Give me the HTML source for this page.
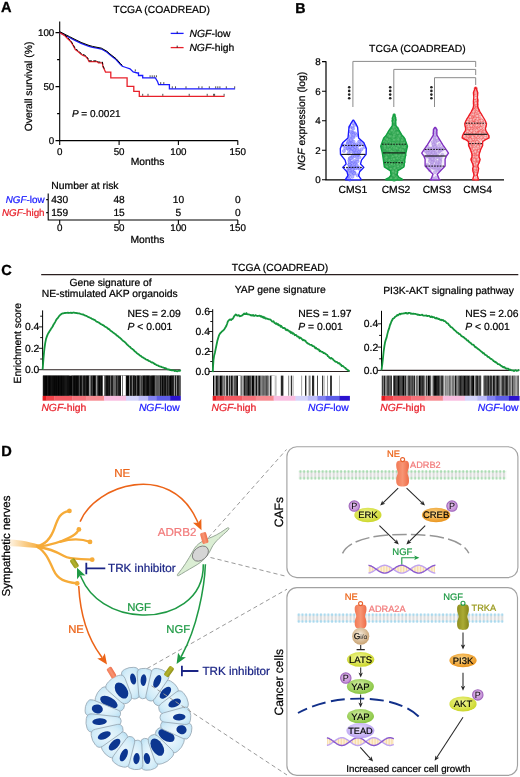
<!DOCTYPE html>
<html><head><meta charset="utf-8"><title>Figure</title>
<style>html,body{margin:0;padding:0;background:#fff;overflow:hidden;}svg{display:block;}text{font-family:"Liberation Sans",Arial,Helvetica,sans-serif;text-rendering:geometricPrecision;}</style>
</head><body>
<svg width="520" height="777" viewBox="0 0 520 777">
<defs>
<linearGradient id="nerveg" x1="10" y1="0" x2="40" y2="0" gradientUnits="userSpaceOnUse"><stop offset="0" stop-color="#f6ab38" stop-opacity="0.15"/><stop offset="0.5" stop-color="#f6ab38" stop-opacity="0.6"/><stop offset="1" stop-color="#f6ab38"/></linearGradient>
<radialGradient id="cellg" cx="0.5" cy="0.5" r="0.62"><stop offset="0" stop-color="#eef8fd"/><stop offset="0.7" stop-color="#d2ecf8"/><stop offset="1" stop-color="#b8dff3"/></radialGradient>
<radialGradient id="yg" cx="0.45" cy="0.4" r="0.6"><stop offset="0" stop-color="#f4fa9a"/><stop offset="1" stop-color="#cbd62a"/></radialGradient>
<radialGradient id="og" cx="0.45" cy="0.4" r="0.6"><stop offset="0" stop-color="#fcd98e"/><stop offset="1" stop-color="#ea951e"/></radialGradient>
<radialGradient id="gg" cx="0.45" cy="0.4" r="0.6"><stop offset="0" stop-color="#d8f0a8"/><stop offset="1" stop-color="#86c440"/></radialGradient>
<radialGradient id="lg" cx="0.45" cy="0.4" r="0.6"><stop offset="0" stop-color="#ece2ff"/><stop offset="1" stop-color="#b9a2f0"/></radialGradient>
<radialGradient id="tang" cx="0.45" cy="0.4" r="0.6"><stop offset="0" stop-color="#f6ecdc"/><stop offset="1" stop-color="#c8a272"/></radialGradient>
<radialGradient id="pg" cx="0.45" cy="0.4" r="0.6"><stop offset="0" stop-color="#e4c4ee"/><stop offset="1" stop-color="#c08ad4"/></radialGradient>
<linearGradient id="salmg" x1="0" y1="0" x2="1" y2="0"><stop offset="0" stop-color="#f27a56"/><stop offset="0.5" stop-color="#f79574"/><stop offset="1" stop-color="#ee6c48"/></linearGradient>
<linearGradient id="oliveg2" x1="0" y1="0" x2="1" y2="0"><stop offset="0" stop-color="#9c9c1c"/><stop offset="0.5" stop-color="#b4b430"/><stop offset="1" stop-color="#8e8e16"/></linearGradient>
<linearGradient id="oliveg" x1="0" y1="0" x2="1" y2="0"><stop offset="0" stop-color="#8e8e1e"/><stop offset="0.5" stop-color="#abab34"/><stop offset="1" stop-color="#858518"/></linearGradient>
<pattern id="memg" x="298.6" y="470.2" width="3.7" height="9.4" patternUnits="userSpaceOnUse"><rect x="0.9" y="1.4" width="1.9" height="6.6" fill="#f2f2f2"/><path d="M1.15,1.8V7.6M2.55,1.8V7.6" stroke="#c2c2c2" stroke-width="0.55"/><circle cx="1.85" cy="1.3" r="1.25" fill="#a9dcb1"/><circle cx="1.85" cy="8.1" r="1.25" fill="#a9dcb1"/></pattern>
<pattern id="memb" x="296.9" y="613.4" width="3.7" height="9.4" patternUnits="userSpaceOnUse"><rect x="0.9" y="1.4" width="1.9" height="6.6" fill="#f2f2f2"/><path d="M1.15,1.8V7.6M2.55,1.8V7.6" stroke="#c2c2c2" stroke-width="0.55"/><circle cx="1.85" cy="1.3" r="1.25" fill="#a6d8ee"/><circle cx="1.85" cy="8.1" r="1.25" fill="#a6d8ee"/></pattern>
</defs>
<rect width="520" height="777" fill="#fff"/>
<text x="0.9" y="11.9" font-size="14.6" font-weight="bold" stroke="#000" stroke-width="0.3">A</text>
<text x="161.6" y="12.6" font-size="10.35" text-anchor="middle" stroke="#000" stroke-width="0.22">TCGA (COADREAD)</text>
<path d="M59.7,21.5V140.6H237.8" fill="none" stroke="#000" stroke-width="1.1"/>
<path d="M55.5,32.6H59.7M57.1,59.6H59.7M55.5,86.6H59.7M57.1,113.6H59.7M55.5,140.6H59.7M59.7,140.6V145.1M119.1,140.6V145.1M178.4,140.6V145.1M237.8,140.6V145.1" stroke="#000" stroke-width="1.1"/>
<text x="54.3" y="36.1" font-size="9.8" text-anchor="end" stroke="#000" stroke-width="0.22">100</text>
<text x="54.3" y="90.1" font-size="9.8" text-anchor="end" stroke="#000" stroke-width="0.22">50</text>
<text x="54.3" y="144.1" font-size="9.8" text-anchor="end" stroke="#000" stroke-width="0.22">0</text>
<text x="59.7" y="154.7" font-size="9.8" text-anchor="middle" stroke="#000" stroke-width="0.22">0</text>
<text x="119.1" y="154.7" font-size="9.8" text-anchor="middle" stroke="#000" stroke-width="0.22">50</text>
<text x="178.4" y="154.7" font-size="9.8" text-anchor="middle" stroke="#000" stroke-width="0.22">100</text>
<text x="237.8" y="154.7" font-size="9.8" text-anchor="middle" stroke="#000" stroke-width="0.22">150</text>
<text x="147.6" y="165.2" font-size="10.35" text-anchor="middle" stroke="#000" stroke-width="0.22">Months</text>
<text x="0" y="0" font-size="10.35" text-anchor="middle" stroke="#000" stroke-width="0.22" transform="translate(32.2,86.5) rotate(-90)">Overall survival (%)</text>
<text x="71.9" y="117.2" font-size="10.0" stroke="#000" stroke-width="0.22"><tspan font-style="italic">P</tspan> = 0.0021</text>
<path d="M170.7,33.4H183.6" stroke="#1a1aff" stroke-width="1.3"/><path d="M177.2,31.4V33.4" stroke="#000" stroke-width="0.8"/>
<path d="M170.7,47.6H183.6" stroke="#e8202a" stroke-width="1.3"/><path d="M177.2,45.6V47.6" stroke="#000" stroke-width="0.8"/>
<text x="189.6" y="36.9" font-size="10.35" stroke="#000" stroke-width="0.22"><tspan font-style="italic">NGF</tspan>-low</text>
<text x="189.4" y="51.3" font-size="10.35" stroke="#000" stroke-width="0.22"><tspan font-style="italic">NGF</tspan>-high</text>
<polyline points="59.8,32.6 63.0,34.2 66.0,35.8 69.5,37.5 73.0,39.3 77.0,41.3 81.1,43.3 85.0,44.8 89.0,46.3 92.6,47.3 97.0,48.2 101.3,49.0 104.0,50.5 107.0,52.2 109.9,54.8 113.0,57.2 116.0,59.5 118.0,61.7 120.5,64.5 122.3,66.3 126.0,67.5 130.0,68.8 133.2,71.9 137.4,73.0 138.5,73.0 138.5,75.5 142.7,75.5 142.7,77.8 155.4,77.8 157.5,81.4 158.6,84.6 169.4,84.6 169.4,88.8 235.1,88.8" fill="none" stroke="#1a1aff" stroke-width="1.3" stroke-linejoin="miter"/>
<polyline points="59.8,32.6 64.9,35.8 67.5,38.5 70.7,41.5 73.0,45.2 75.3,49.5 78.0,51.5 81.1,54.2 83.0,55.3 85.7,56.5 87.5,58.5 89.1,61.7 97.2,61.7 98.4,62.9 102.4,62.9 103.0,66.9 104.5,69.8 105.5,72.1 110.8,72.1 110.8,77.9 127.1,77.9 127.1,86.3 133.8,86.3 133.8,91.4 139.3,91.4 139.3,96.3 224.6,96.3" fill="none" stroke="#e8202a" stroke-width="1.3"/>
<polyline points="59.8,31.7 63.0,33.3 66.0,34.9 69.5,36.6 73.0,38.4 77.0,40.4 81.1,42.4 85.0,43.9 89.0,45.4 92.6,46.4 97.0,47.3 101.3,48.1 104.0,49.6 107.0,51.3 109.9,53.9 113.0,56.3 116.0,58.6 118.0,60.8 120.5,63.6 122.3,65.4" fill="none" stroke="#000" stroke-width="1.0"/>
<polyline points="64.9,34.9 67.5,37.6 70.7,40.6 73.0,44.3 75.3,48.6 78.0,50.6 81.1,53.3 83.0,54.4 85.7,55.6 87.5,57.6 89.1,60.8 97.2,60.8 98.4,62.0 102.4,62.0 103.0,66.0 104.5,68.9" fill="none" stroke="#000" stroke-width="0.9" stroke-dasharray="3 1.5"/>
<path d="M135.3,71.4v-2M150.1,77.3v-2M152.2,77.3v-2M154.3,77.3v-2M156.4,77.3v-2M160.7,84.1v-2M163.8,84.1v-2M172.3,88.3v-2M175.5,88.3v-2M186,88.3v-2M198.8,88.3v-2M202,88.3v-2M209.3,88.3v-2M215.7,88.3v-2M217.8,88.3v-2M219.9,88.3v-2M226.3,88.3v-2M234.7,88.3v-2M142.7,95.8v-2M148,95.8v-2M162.8,95.8v-2M189.2,95.8v-2M207.2,95.8v-2M213.6,95.8v-2M214.6,95.8v-2M224.1,95.8v-2" stroke="#000" stroke-width="0.7"/>
<text x="51.3" y="188.8" font-size="10.35" stroke="#000" stroke-width="0.22">Number at risk</text>
<path d="M48.2,193.4V220H238M46.2,199.6H48.2M46.2,212.6H48.2" fill="none" stroke="#000" stroke-width="1.1"/>
<path d="M59.7,220V224M119.1,220V224M178.4,220V224M237.8,220V224" stroke="#000" stroke-width="1.1"/>
<text x="44.6" y="203.0" font-size="9.85" text-anchor="end" fill="#1a1aff" stroke="#1a1aff" stroke-width="0.22"><tspan font-style="italic">NGF</tspan>-low</text>
<text x="44.6" y="215.8" font-size="9.85" text-anchor="end" fill="#e8202a" stroke="#e8202a" stroke-width="0.22"><tspan font-style="italic">NGF</tspan>-high</text>
<text x="59.7" y="203.0" font-size="10.2" text-anchor="middle" stroke="#000" stroke-width="0.22">430</text>
<text x="59.7" y="215.8" font-size="10.2" text-anchor="middle" stroke="#000" stroke-width="0.22">159</text>
<text x="59.7" y="231.4" font-size="9.8" text-anchor="middle" stroke="#000" stroke-width="0.22">0</text>
<text x="119.1" y="203.0" font-size="10.2" text-anchor="middle" stroke="#000" stroke-width="0.22">48</text>
<text x="119.1" y="215.8" font-size="10.2" text-anchor="middle" stroke="#000" stroke-width="0.22">15</text>
<text x="119.1" y="231.4" font-size="9.8" text-anchor="middle" stroke="#000" stroke-width="0.22">50</text>
<text x="178.4" y="203.0" font-size="10.2" text-anchor="middle" stroke="#000" stroke-width="0.22">10</text>
<text x="178.4" y="215.8" font-size="10.2" text-anchor="middle" stroke="#000" stroke-width="0.22">5</text>
<text x="178.4" y="231.4" font-size="9.8" text-anchor="middle" stroke="#000" stroke-width="0.22">100</text>
<text x="237.8" y="203.0" font-size="10.2" text-anchor="middle" stroke="#000" stroke-width="0.22">0</text>
<text x="237.8" y="215.8" font-size="10.2" text-anchor="middle" stroke="#000" stroke-width="0.22">0</text>
<text x="237.8" y="231.4" font-size="9.8" text-anchor="middle" stroke="#000" stroke-width="0.22">150</text>
<text x="147.4" y="243.3" font-size="10.35" text-anchor="middle" stroke="#000" stroke-width="0.22">Months</text>
<text x="295.2" y="12.8" font-size="14.2" font-weight="bold" stroke="#000" stroke-width="0.3">B</text>
<text x="417.4" y="51.6" font-size="10.35" text-anchor="middle" stroke="#000" stroke-width="0.22">TCGA (COADREAD)</text>
<path d="M326.0,61.2V179.8H504" fill="none" stroke="#000" stroke-width="1.2"/>
<path d="M322.0,179.8H326.0M322.0,150.2H326.0M322.0,120.7H326.0M322.0,91.2H326.0M322.0,61.6H326.0" stroke="#000" stroke-width="1.1"/>
<text x="320.6" y="183.3" font-size="9.8" text-anchor="end" stroke="#000" stroke-width="0.22">0</text>
<text x="320.6" y="153.8" font-size="9.8" text-anchor="end" stroke="#000" stroke-width="0.22">2</text>
<text x="320.6" y="124.2" font-size="9.8" text-anchor="end" stroke="#000" stroke-width="0.22">4</text>
<text x="320.6" y="94.7" font-size="9.8" text-anchor="end" stroke="#000" stroke-width="0.22">6</text>
<text x="320.6" y="65.1" font-size="9.8" text-anchor="end" stroke="#000" stroke-width="0.22">8</text>
<text x="0" y="0" font-size="10.35" text-anchor="middle" stroke="#000" stroke-width="0.22" transform="translate(304.6,121) rotate(-90)"><tspan font-style="italic">NGF</tspan> expression (log)</text>
<text x="352.8" y="192.6" font-size="10.35" text-anchor="middle" stroke="#000" stroke-width="0.22">CMS1</text>
<text x="396.0" y="192.6" font-size="10.35" text-anchor="middle" stroke="#000" stroke-width="0.22">CMS2</text>
<text x="437.0" y="192.6" font-size="10.35" text-anchor="middle" stroke="#000" stroke-width="0.22">CMS3</text>
<text x="477.6" y="192.6" font-size="10.35" text-anchor="middle" stroke="#000" stroke-width="0.22">CMS4</text>
<path d="M352.9,107V61.4H475.7V67M393.8,107V69.4H475.7V75M434.5,107V77.7H475.7V85" fill="none" stroke="#8a8a8a" stroke-width="1"/>
<circle cx="349.2" cy="87.2" r="1.3" fill="#222"/>
<circle cx="349.2" cy="90.9" r="1.3" fill="#222"/>
<circle cx="349.2" cy="94.6" r="1.3" fill="#222"/>
<circle cx="349.2" cy="98.3" r="1.3" fill="#222"/>
<circle cx="390.2" cy="87.2" r="1.3" fill="#222"/>
<circle cx="390.2" cy="90.9" r="1.3" fill="#222"/>
<circle cx="390.2" cy="94.6" r="1.3" fill="#222"/>
<circle cx="390.2" cy="98.3" r="1.3" fill="#222"/>
<circle cx="431.4" cy="87.2" r="1.3" fill="#222"/>
<circle cx="431.4" cy="90.9" r="1.3" fill="#222"/>
<circle cx="431.4" cy="94.6" r="1.3" fill="#222"/>
<circle cx="431.4" cy="98.3" r="1.3" fill="#222"/>
<path d="M345.60,179.80 L345.60,179.06 L348.00,175.66 L347.00,171.82 L342.70,167.39 L346.10,163.99 L345.10,160.15 L340.50,154.39 L340.30,148.62 L342.70,142.86 L348.00,137.99 L349.00,127.35 L350.80,123.66 L353.00,120.11 L353.60,120.11 L355.80,123.66 L357.60,127.35 L358.60,137.99 L363.90,142.86 L366.30,148.62 L366.10,154.39 L361.50,160.15 L360.50,163.99 L363.90,167.39 L359.60,171.82 L358.60,175.66 L361.00,179.06 L361.00,179.80Z" fill="#ffffff" stroke="none"/>
<g fill="#a4a4ff" stroke="#5a5aff" stroke-width="0.45" fill-opacity="0.8" stroke-opacity="0.8"><circle cx="359.1" cy="152.8" r="1.55"/><circle cx="350.3" cy="149.5" r="1.55"/><circle cx="348.2" cy="168.8" r="1.55"/><circle cx="350.0" cy="174.2" r="1.55"/><circle cx="352.2" cy="140.8" r="1.55"/><circle cx="352.1" cy="170.4" r="1.55"/><circle cx="353.0" cy="168.4" r="1.55"/><circle cx="347.7" cy="178.0" r="1.55"/><circle cx="357.4" cy="148.8" r="1.55"/><circle cx="348.8" cy="150.0" r="1.55"/><circle cx="354.1" cy="161.0" r="1.55"/><circle cx="353.7" cy="162.5" r="1.55"/><circle cx="349.8" cy="179.8" r="1.55"/><circle cx="355.0" cy="133.3" r="1.55"/><circle cx="354.6" cy="172.8" r="1.55"/><circle cx="353.8" cy="173.8" r="1.55"/><circle cx="350.0" cy="146.4" r="1.55"/><circle cx="353.8" cy="172.8" r="1.55"/><circle cx="356.9" cy="167.2" r="1.55"/><circle cx="353.9" cy="167.1" r="1.55"/><circle cx="350.2" cy="162.1" r="1.55"/><circle cx="350.4" cy="165.3" r="1.55"/><circle cx="357.5" cy="145.5" r="1.55"/><circle cx="359.7" cy="168.9" r="1.55"/><circle cx="349.6" cy="164.9" r="1.55"/><circle cx="356.4" cy="144.2" r="1.55"/><circle cx="348.9" cy="175.7" r="1.55"/><circle cx="349.9" cy="143.1" r="1.55"/><circle cx="354.4" cy="125.0" r="1.55"/><circle cx="353.8" cy="153.2" r="1.55"/><circle cx="351.4" cy="169.3" r="1.55"/><circle cx="352.6" cy="171.4" r="1.55"/><circle cx="343.9" cy="151.0" r="1.55"/><circle cx="358.1" cy="154.9" r="1.55"/><circle cx="348.8" cy="142.5" r="1.55"/><circle cx="359.8" cy="145.0" r="1.55"/><circle cx="357.3" cy="153.5" r="1.55"/><circle cx="351.1" cy="151.1" r="1.55"/><circle cx="349.4" cy="164.5" r="1.55"/><circle cx="358.9" cy="167.7" r="1.55"/><circle cx="348.6" cy="153.4" r="1.55"/><circle cx="356.8" cy="168.0" r="1.55"/><circle cx="342.5" cy="145.0" r="1.55"/><circle cx="350.8" cy="163.3" r="1.55"/><circle cx="354.4" cy="167.0" r="1.55"/><circle cx="349.8" cy="142.4" r="1.55"/><circle cx="357.5" cy="175.3" r="1.55"/><circle cx="352.6" cy="127.7" r="1.55"/><circle cx="349.1" cy="178.7" r="1.55"/><circle cx="355.3" cy="152.7" r="1.55"/><circle cx="351.3" cy="171.4" r="1.55"/><circle cx="348.8" cy="142.2" r="1.55"/><circle cx="350.3" cy="138.9" r="1.55"/><circle cx="359.8" cy="151.4" r="1.55"/><circle cx="353.5" cy="137.2" r="1.55"/><circle cx="352.0" cy="163.5" r="1.55"/><circle cx="347.8" cy="143.1" r="1.55"/><circle cx="355.1" cy="156.3" r="1.55"/><circle cx="352.6" cy="172.0" r="1.55"/><circle cx="359.4" cy="157.3" r="1.55"/><circle cx="348.6" cy="140.9" r="1.55"/><circle cx="348.0" cy="147.7" r="1.55"/><circle cx="364.3" cy="147.0" r="1.55"/><circle cx="354.1" cy="150.7" r="1.55"/><circle cx="352.6" cy="132.1" r="1.55"/><circle cx="348.5" cy="171.4" r="1.55"/><circle cx="353.1" cy="123.1" r="1.55"/><circle cx="351.5" cy="166.6" r="1.55"/><circle cx="359.8" cy="141.7" r="1.55"/><circle cx="357.6" cy="161.2" r="1.55"/><circle cx="343.9" cy="145.6" r="1.55"/><circle cx="352.2" cy="147.8" r="1.55"/><circle cx="352.5" cy="155.9" r="1.55"/><circle cx="352.6" cy="146.2" r="1.55"/><circle cx="351.3" cy="147.6" r="1.55"/><circle cx="355.7" cy="163.7" r="1.55"/><circle cx="357.7" cy="151.4" r="1.55"/><circle cx="355.3" cy="168.4" r="1.55"/><circle cx="352.8" cy="133.3" r="1.55"/><circle cx="351.8" cy="168.2" r="1.55"/><circle cx="349.8" cy="158.6" r="1.55"/><circle cx="349.5" cy="164.8" r="1.55"/><circle cx="352.3" cy="157.4" r="1.55"/><circle cx="355.6" cy="148.2" r="1.55"/><circle cx="359.0" cy="141.7" r="1.55"/><circle cx="353.1" cy="128.7" r="1.55"/><circle cx="350.0" cy="126.8" r="1.55"/><circle cx="355.0" cy="164.3" r="1.55"/><circle cx="351.3" cy="132.6" r="1.55"/><circle cx="356.8" cy="155.8" r="1.55"/><circle cx="353.7" cy="149.6" r="1.55"/><circle cx="354.1" cy="149.8" r="1.55"/><circle cx="354.2" cy="173.5" r="1.55"/><circle cx="350.5" cy="146.9" r="1.55"/><circle cx="352.3" cy="168.8" r="1.55"/><circle cx="358.7" cy="152.2" r="1.55"/><circle cx="349.4" cy="160.3" r="1.55"/><circle cx="352.8" cy="143.9" r="1.55"/><circle cx="353.0" cy="169.0" r="1.55"/><circle cx="348.8" cy="168.2" r="1.55"/><circle cx="361.5" cy="149.2" r="1.55"/><circle cx="348.3" cy="142.2" r="1.55"/><circle cx="362.3" cy="144.0" r="1.55"/><circle cx="352.8" cy="136.7" r="1.55"/><circle cx="357.0" cy="159.4" r="1.55"/><circle cx="353.6" cy="141.7" r="1.55"/><circle cx="350.9" cy="140.0" r="1.55"/><circle cx="347.0" cy="148.0" r="1.55"/><circle cx="349.5" cy="164.5" r="1.55"/><circle cx="352.4" cy="176.8" r="1.55"/><circle cx="355.1" cy="147.0" r="1.55"/><circle cx="350.4" cy="131.5" r="1.55"/><circle cx="349.9" cy="170.3" r="1.55"/><circle cx="352.3" cy="169.7" r="1.55"/><circle cx="352.0" cy="148.4" r="1.55"/><circle cx="350.1" cy="158.0" r="1.55"/><circle cx="349.6" cy="162.1" r="1.55"/><circle cx="356.8" cy="165.2" r="1.55"/><circle cx="356.5" cy="135.1" r="1.55"/><circle cx="357.5" cy="154.2" r="1.55"/><circle cx="352.6" cy="148.6" r="1.55"/><circle cx="349.4" cy="143.8" r="1.55"/><circle cx="349.7" cy="167.6" r="1.55"/><circle cx="345.3" cy="148.3" r="1.55"/><circle cx="356.3" cy="152.6" r="1.55"/><circle cx="354.4" cy="145.0" r="1.55"/><circle cx="350.5" cy="136.0" r="1.55"/><circle cx="351.1" cy="158.4" r="1.55"/><circle cx="347.3" cy="144.5" r="1.55"/><circle cx="353.3" cy="134.8" r="1.55"/></g>
<path d="M345.60,179.80 L345.60,179.06 L348.00,175.66 L347.00,171.82 L342.70,167.39 L346.10,163.99 L345.10,160.15 L340.50,154.39 L340.30,148.62 L342.70,142.86 L348.00,137.99 L349.00,127.35 L350.80,123.66 L353.00,120.11 L353.60,120.11 L355.80,123.66 L357.60,127.35 L358.60,137.99 L363.90,142.86 L366.30,148.62 L366.10,154.39 L361.50,160.15 L360.50,163.99 L363.90,167.39 L359.60,171.82 L358.60,175.66 L361.00,179.06 L361.00,179.80Z" fill="none" stroke="#1a1aff" stroke-width="1.35" stroke-linejoin="round"/>
<path d="M341.1,154.4H365.5" stroke="#111" stroke-width="1.1"/>
<path d="M343.3,167.4H363.3M342.3,145.4H364.3" stroke="#111" stroke-width="1" stroke-dasharray="1.7 1.1"/>
<path d="M385.90,179.80 L385.90,179.21 L388.90,177.73 L391.00,175.07 L390.50,170.94 L384.30,166.95 L383.30,159.56 L382.20,152.47 L380.70,146.26 L383.30,139.02 L386.40,134.88 L389.50,129.71 L392.30,125.58 L392.60,117.75 L393.80,114.35 L394.40,114.35 L395.60,117.75 L395.90,125.58 L398.70,129.71 L401.80,134.88 L404.90,139.02 L407.50,146.26 L406.00,152.47 L404.90,159.56 L403.90,166.95 L397.70,170.94 L397.20,175.07 L399.30,177.73 L402.30,179.21 L402.30,179.80Z" fill="#34a656" stroke="none"/>
<g fill="#5cbf74" stroke="#1f9a44" stroke-width="0.45" fill-opacity="0.8" stroke-opacity="0.8"><circle cx="391.3" cy="148.7" r="1.55"/><circle cx="391.0" cy="179.1" r="1.55"/><circle cx="400.6" cy="143.3" r="1.55"/><circle cx="401.7" cy="157.7" r="1.55"/><circle cx="402.9" cy="146.5" r="1.55"/><circle cx="393.2" cy="139.1" r="1.55"/><circle cx="391.2" cy="153.6" r="1.55"/><circle cx="392.4" cy="140.8" r="1.55"/><circle cx="395.6" cy="156.5" r="1.55"/><circle cx="392.0" cy="172.3" r="1.55"/><circle cx="402.9" cy="151.6" r="1.55"/><circle cx="403.5" cy="157.3" r="1.55"/><circle cx="396.9" cy="166.1" r="1.55"/><circle cx="393.9" cy="156.0" r="1.55"/><circle cx="397.8" cy="146.8" r="1.55"/><circle cx="400.3" cy="158.7" r="1.55"/><circle cx="392.1" cy="148.6" r="1.55"/><circle cx="393.2" cy="133.7" r="1.55"/><circle cx="401.3" cy="152.3" r="1.55"/><circle cx="390.7" cy="144.8" r="1.55"/><circle cx="396.9" cy="156.7" r="1.55"/><circle cx="403.0" cy="144.3" r="1.55"/><circle cx="399.1" cy="133.9" r="1.55"/><circle cx="388.5" cy="163.7" r="1.55"/><circle cx="394.9" cy="159.3" r="1.55"/><circle cx="394.5" cy="136.1" r="1.55"/><circle cx="397.0" cy="156.2" r="1.55"/><circle cx="404.8" cy="147.0" r="1.55"/><circle cx="394.7" cy="164.9" r="1.55"/><circle cx="387.7" cy="135.2" r="1.55"/><circle cx="389.6" cy="131.9" r="1.55"/><circle cx="394.1" cy="159.7" r="1.55"/><circle cx="394.1" cy="165.0" r="1.55"/><circle cx="396.8" cy="139.4" r="1.55"/><circle cx="387.0" cy="153.2" r="1.55"/><circle cx="395.6" cy="127.0" r="1.55"/><circle cx="392.1" cy="156.3" r="1.55"/><circle cx="399.2" cy="179.0" r="1.55"/><circle cx="400.2" cy="167.8" r="1.55"/><circle cx="383.4" cy="144.7" r="1.55"/><circle cx="398.0" cy="145.3" r="1.55"/><circle cx="384.9" cy="138.2" r="1.55"/><circle cx="385.6" cy="138.3" r="1.55"/><circle cx="397.3" cy="133.0" r="1.55"/><circle cx="394.9" cy="175.7" r="1.55"/><circle cx="395.2" cy="179.2" r="1.55"/><circle cx="394.5" cy="117.6" r="1.55"/><circle cx="394.3" cy="144.3" r="1.55"/><circle cx="398.0" cy="140.5" r="1.55"/><circle cx="395.7" cy="157.6" r="1.55"/><circle cx="385.0" cy="148.1" r="1.55"/><circle cx="386.2" cy="156.1" r="1.55"/><circle cx="402.2" cy="154.6" r="1.55"/><circle cx="401.4" cy="163.3" r="1.55"/><circle cx="390.3" cy="142.0" r="1.55"/><circle cx="401.8" cy="159.5" r="1.55"/><circle cx="394.0" cy="146.9" r="1.55"/><circle cx="395.6" cy="168.5" r="1.55"/><circle cx="401.8" cy="155.8" r="1.55"/><circle cx="385.6" cy="158.0" r="1.55"/><circle cx="399.7" cy="137.4" r="1.55"/><circle cx="394.1" cy="135.8" r="1.55"/><circle cx="386.6" cy="164.5" r="1.55"/><circle cx="384.0" cy="141.2" r="1.55"/><circle cx="390.4" cy="149.3" r="1.55"/><circle cx="392.6" cy="136.4" r="1.55"/><circle cx="386.2" cy="159.7" r="1.55"/><circle cx="391.7" cy="159.2" r="1.55"/><circle cx="394.7" cy="176.5" r="1.55"/><circle cx="393.3" cy="143.7" r="1.55"/><circle cx="402.9" cy="139.4" r="1.55"/><circle cx="405.2" cy="145.6" r="1.55"/><circle cx="399.6" cy="143.8" r="1.55"/><circle cx="398.2" cy="165.4" r="1.55"/><circle cx="393.4" cy="137.2" r="1.55"/><circle cx="395.2" cy="171.7" r="1.55"/><circle cx="392.0" cy="165.2" r="1.55"/><circle cx="391.4" cy="130.7" r="1.55"/><circle cx="390.3" cy="168.7" r="1.55"/><circle cx="387.9" cy="152.6" r="1.55"/><circle cx="393.4" cy="118.5" r="1.55"/><circle cx="396.9" cy="166.4" r="1.55"/><circle cx="393.5" cy="168.3" r="1.55"/><circle cx="390.4" cy="136.6" r="1.55"/><circle cx="397.3" cy="166.5" r="1.55"/><circle cx="396.0" cy="148.4" r="1.55"/><circle cx="395.8" cy="135.7" r="1.55"/><circle cx="391.0" cy="168.8" r="1.55"/><circle cx="395.6" cy="166.6" r="1.55"/><circle cx="388.4" cy="135.0" r="1.55"/><circle cx="397.1" cy="137.2" r="1.55"/><circle cx="388.0" cy="144.4" r="1.55"/><circle cx="389.4" cy="140.0" r="1.55"/><circle cx="392.4" cy="161.8" r="1.55"/><circle cx="397.5" cy="162.7" r="1.55"/><circle cx="398.7" cy="136.0" r="1.55"/><circle cx="399.4" cy="167.8" r="1.55"/><circle cx="394.0" cy="120.4" r="1.55"/><circle cx="389.4" cy="160.2" r="1.55"/><circle cx="392.8" cy="174.1" r="1.55"/><circle cx="393.2" cy="169.9" r="1.55"/><circle cx="395.2" cy="148.6" r="1.55"/><circle cx="394.5" cy="134.5" r="1.55"/><circle cx="393.5" cy="150.6" r="1.55"/><circle cx="397.1" cy="132.2" r="1.55"/><circle cx="388.3" cy="154.1" r="1.55"/><circle cx="395.4" cy="133.1" r="1.55"/><circle cx="394.2" cy="115.1" r="1.55"/><circle cx="390.7" cy="149.5" r="1.55"/><circle cx="401.2" cy="162.4" r="1.55"/><circle cx="393.3" cy="132.5" r="1.55"/><circle cx="393.4" cy="173.9" r="1.55"/><circle cx="391.9" cy="130.7" r="1.55"/><circle cx="394.6" cy="168.1" r="1.55"/><circle cx="400.2" cy="151.8" r="1.55"/><circle cx="396.5" cy="172.4" r="1.55"/><circle cx="392.4" cy="148.8" r="1.55"/><circle cx="395.8" cy="152.6" r="1.55"/><circle cx="392.4" cy="137.4" r="1.55"/><circle cx="384.8" cy="144.0" r="1.55"/><circle cx="385.7" cy="158.2" r="1.55"/><circle cx="393.4" cy="175.1" r="1.55"/><circle cx="398.2" cy="167.8" r="1.55"/><circle cx="403.1" cy="165.2" r="1.55"/><circle cx="400.4" cy="152.9" r="1.55"/><circle cx="393.3" cy="128.2" r="1.55"/><circle cx="393.7" cy="149.9" r="1.55"/><circle cx="393.3" cy="138.0" r="1.55"/><circle cx="401.3" cy="144.4" r="1.55"/><circle cx="389.5" cy="150.5" r="1.55"/><circle cx="397.4" cy="138.1" r="1.55"/><circle cx="396.0" cy="143.3" r="1.55"/><circle cx="401.6" cy="147.8" r="1.55"/><circle cx="384.4" cy="144.4" r="1.55"/><circle cx="390.8" cy="136.0" r="1.55"/><circle cx="390.1" cy="165.3" r="1.55"/><circle cx="394.4" cy="179.7" r="1.55"/><circle cx="395.9" cy="147.0" r="1.55"/><circle cx="389.9" cy="146.1" r="1.55"/><circle cx="395.6" cy="140.4" r="1.55"/><circle cx="394.2" cy="134.7" r="1.55"/><circle cx="388.4" cy="141.1" r="1.55"/><circle cx="402.0" cy="155.3" r="1.55"/><circle cx="396.8" cy="141.6" r="1.55"/><circle cx="390.9" cy="162.2" r="1.55"/><circle cx="386.1" cy="163.0" r="1.55"/><circle cx="393.6" cy="131.2" r="1.55"/><circle cx="393.1" cy="142.0" r="1.55"/><circle cx="402.8" cy="146.8" r="1.55"/><circle cx="397.9" cy="132.8" r="1.55"/><circle cx="386.2" cy="142.1" r="1.55"/><circle cx="395.9" cy="139.6" r="1.55"/><circle cx="387.5" cy="149.4" r="1.55"/><circle cx="386.4" cy="157.3" r="1.55"/><circle cx="403.7" cy="139.2" r="1.55"/><circle cx="397.7" cy="132.9" r="1.55"/><circle cx="396.0" cy="153.2" r="1.55"/><circle cx="395.0" cy="150.7" r="1.55"/><circle cx="398.4" cy="140.7" r="1.55"/><circle cx="400.8" cy="143.1" r="1.55"/><circle cx="385.8" cy="144.3" r="1.55"/><circle cx="395.2" cy="152.1" r="1.55"/><circle cx="400.0" cy="164.9" r="1.55"/><circle cx="386.7" cy="153.3" r="1.55"/><circle cx="402.2" cy="166.3" r="1.55"/><circle cx="398.6" cy="136.3" r="1.55"/><circle cx="394.4" cy="129.6" r="1.55"/><circle cx="394.0" cy="151.9" r="1.55"/><circle cx="384.8" cy="146.4" r="1.55"/><circle cx="393.8" cy="136.5" r="1.55"/><circle cx="392.4" cy="157.2" r="1.55"/><circle cx="394.6" cy="149.7" r="1.55"/><circle cx="390.9" cy="143.2" r="1.55"/><circle cx="392.8" cy="145.3" r="1.55"/><circle cx="386.9" cy="140.0" r="1.55"/><circle cx="401.9" cy="141.8" r="1.55"/><circle cx="393.1" cy="120.7" r="1.55"/><circle cx="393.7" cy="140.6" r="1.55"/><circle cx="388.1" cy="147.0" r="1.55"/><circle cx="391.9" cy="147.2" r="1.55"/><circle cx="393.1" cy="151.7" r="1.55"/><circle cx="393.1" cy="142.9" r="1.55"/><circle cx="393.1" cy="156.3" r="1.55"/><circle cx="392.9" cy="143.1" r="1.55"/><circle cx="397.8" cy="157.1" r="1.55"/><circle cx="396.8" cy="143.4" r="1.55"/><circle cx="393.3" cy="127.8" r="1.55"/><circle cx="402.5" cy="150.2" r="1.55"/><circle cx="394.0" cy="148.6" r="1.55"/><circle cx="391.1" cy="178.2" r="1.55"/><circle cx="402.0" cy="140.1" r="1.55"/><circle cx="397.8" cy="138.5" r="1.55"/><circle cx="395.8" cy="155.9" r="1.55"/><circle cx="393.6" cy="126.7" r="1.55"/><circle cx="396.3" cy="170.2" r="1.55"/><circle cx="391.0" cy="163.9" r="1.55"/><circle cx="388.5" cy="146.2" r="1.55"/><circle cx="397.3" cy="128.5" r="1.55"/><circle cx="386.5" cy="165.8" r="1.55"/><circle cx="402.5" cy="157.5" r="1.55"/><circle cx="404.5" cy="147.3" r="1.55"/><circle cx="389.9" cy="150.6" r="1.55"/><circle cx="397.6" cy="148.4" r="1.55"/><circle cx="393.9" cy="159.0" r="1.55"/><circle cx="395.6" cy="172.6" r="1.55"/><circle cx="393.2" cy="146.1" r="1.55"/><circle cx="387.0" cy="166.7" r="1.55"/><circle cx="399.0" cy="152.5" r="1.55"/><circle cx="404.1" cy="154.4" r="1.55"/><circle cx="392.7" cy="171.3" r="1.55"/><circle cx="404.7" cy="155.3" r="1.55"/><circle cx="393.5" cy="179.7" r="1.55"/><circle cx="398.7" cy="146.2" r="1.55"/><circle cx="399.0" cy="146.2" r="1.55"/><circle cx="394.4" cy="147.5" r="1.55"/><circle cx="402.8" cy="137.5" r="1.55"/><circle cx="390.3" cy="163.1" r="1.55"/><circle cx="395.0" cy="154.6" r="1.55"/><circle cx="393.2" cy="171.5" r="1.55"/><circle cx="400.3" cy="149.6" r="1.55"/><circle cx="396.0" cy="144.8" r="1.55"/><circle cx="385.8" cy="163.0" r="1.55"/><circle cx="398.6" cy="137.5" r="1.55"/><circle cx="398.3" cy="158.6" r="1.55"/><circle cx="400.1" cy="155.2" r="1.55"/><circle cx="389.7" cy="149.3" r="1.55"/><circle cx="394.0" cy="139.7" r="1.55"/><circle cx="388.1" cy="145.5" r="1.55"/><circle cx="397.3" cy="165.7" r="1.55"/><circle cx="397.0" cy="176.7" r="1.55"/><circle cx="396.5" cy="148.1" r="1.55"/><circle cx="402.2" cy="143.3" r="1.55"/><circle cx="397.7" cy="142.9" r="1.55"/><circle cx="399.3" cy="161.6" r="1.55"/><circle cx="398.9" cy="157.8" r="1.55"/><circle cx="397.9" cy="145.4" r="1.55"/><circle cx="394.9" cy="179.2" r="1.55"/><circle cx="387.2" cy="139.2" r="1.55"/><circle cx="397.9" cy="166.4" r="1.55"/><circle cx="398.3" cy="139.3" r="1.55"/><circle cx="398.1" cy="166.1" r="1.55"/><circle cx="389.6" cy="136.2" r="1.55"/><circle cx="397.4" cy="163.8" r="1.55"/><circle cx="403.8" cy="162.0" r="1.55"/><circle cx="391.5" cy="151.3" r="1.55"/><circle cx="394.0" cy="143.5" r="1.55"/><circle cx="404.3" cy="142.9" r="1.55"/><circle cx="396.9" cy="143.6" r="1.55"/><circle cx="391.8" cy="164.0" r="1.55"/><circle cx="393.8" cy="121.6" r="1.55"/><circle cx="393.7" cy="117.9" r="1.55"/><circle cx="399.7" cy="135.7" r="1.55"/><circle cx="395.0" cy="119.7" r="1.55"/><circle cx="398.9" cy="156.1" r="1.55"/><circle cx="397.1" cy="158.1" r="1.55"/><circle cx="395.4" cy="155.6" r="1.55"/><circle cx="395.8" cy="178.2" r="1.55"/><circle cx="403.6" cy="155.1" r="1.55"/><circle cx="392.0" cy="130.2" r="1.55"/><circle cx="396.4" cy="155.4" r="1.55"/></g>
<path d="M385.90,179.80 L385.90,179.21 L388.90,177.73 L391.00,175.07 L390.50,170.94 L384.30,166.95 L383.30,159.56 L382.20,152.47 L380.70,146.26 L383.30,139.02 L386.40,134.88 L389.50,129.71 L392.30,125.58 L392.60,117.75 L393.80,114.35 L394.40,114.35 L395.60,117.75 L395.90,125.58 L398.70,129.71 L401.80,134.88 L404.90,139.02 L407.50,146.26 L406.00,152.47 L404.90,159.56 L403.90,166.95 L397.70,170.94 L397.20,175.07 L399.30,177.73 L402.30,179.21 L402.30,179.80Z" fill="none" stroke="#12a040" stroke-width="1.35" stroke-linejoin="round"/>
<path d="M382.9,152.9H405.3" stroke="#111" stroke-width="1.1"/>
<path d="M384.3,162.7H403.9M382.0,144.2H406.2" stroke="#111" stroke-width="1" stroke-dasharray="1.7 1.1"/>
<path d="M430.10,179.80 L431.30,178.62 L433.00,174.33 L429.20,170.20 L425.10,166.06 L425.10,162.66 L425.10,159.26 L423.80,156.01 L421.70,153.06 L424.20,149.36 L427.20,145.08 L430.90,139.17 L433.30,135.18 L433.40,129.56 L434.80,127.50 L435.40,127.50 L436.80,129.56 L436.90,135.18 L439.30,139.17 L443.00,145.08 L446.00,149.36 L448.50,153.06 L446.40,156.01 L445.10,159.26 L445.10,162.66 L445.10,166.06 L441.00,170.20 L437.20,174.33 L438.90,178.62 L440.10,179.80Z" fill="#f4effb" stroke="none"/>
<g fill="#c4aeee" stroke="#a584d8" stroke-width="0.45" fill-opacity="0.8" stroke-opacity="0.8"><circle cx="431.3" cy="166.3" r="1.55"/><circle cx="429.7" cy="170.1" r="1.55"/><circle cx="435.0" cy="172.1" r="1.55"/><circle cx="431.8" cy="152.0" r="1.55"/><circle cx="438.7" cy="164.4" r="1.55"/><circle cx="432.6" cy="179.0" r="1.55"/><circle cx="429.0" cy="154.3" r="1.55"/><circle cx="433.0" cy="160.8" r="1.55"/><circle cx="438.9" cy="163.4" r="1.55"/><circle cx="425.5" cy="150.8" r="1.55"/><circle cx="437.1" cy="156.6" r="1.55"/><circle cx="440.6" cy="166.6" r="1.55"/><circle cx="439.1" cy="148.1" r="1.55"/><circle cx="438.8" cy="167.5" r="1.55"/><circle cx="439.3" cy="169.6" r="1.55"/><circle cx="436.2" cy="177.5" r="1.55"/><circle cx="427.5" cy="146.4" r="1.55"/><circle cx="440.3" cy="160.2" r="1.55"/><circle cx="436.8" cy="148.2" r="1.55"/><circle cx="442.5" cy="149.4" r="1.55"/><circle cx="432.8" cy="161.0" r="1.55"/><circle cx="439.2" cy="150.7" r="1.55"/><circle cx="435.4" cy="165.7" r="1.55"/><circle cx="435.5" cy="152.8" r="1.55"/><circle cx="439.6" cy="144.8" r="1.55"/><circle cx="436.2" cy="166.3" r="1.55"/><circle cx="435.3" cy="149.0" r="1.55"/><circle cx="438.0" cy="169.1" r="1.55"/><circle cx="435.6" cy="148.4" r="1.55"/><circle cx="431.2" cy="154.7" r="1.55"/><circle cx="432.6" cy="162.4" r="1.55"/><circle cx="435.3" cy="134.6" r="1.55"/><circle cx="437.7" cy="163.9" r="1.55"/><circle cx="435.6" cy="160.9" r="1.55"/><circle cx="439.7" cy="151.3" r="1.55"/><circle cx="435.2" cy="154.8" r="1.55"/><circle cx="427.1" cy="152.6" r="1.55"/><circle cx="435.5" cy="132.9" r="1.55"/><circle cx="436.3" cy="164.2" r="1.55"/><circle cx="435.3" cy="141.8" r="1.55"/><circle cx="439.3" cy="157.6" r="1.55"/><circle cx="427.4" cy="156.3" r="1.55"/><circle cx="433.0" cy="178.3" r="1.55"/><circle cx="430.1" cy="151.7" r="1.55"/><circle cx="437.4" cy="170.5" r="1.55"/><circle cx="439.8" cy="149.0" r="1.55"/><circle cx="430.1" cy="152.5" r="1.55"/><circle cx="436.0" cy="145.9" r="1.55"/><circle cx="435.0" cy="135.9" r="1.55"/><circle cx="435.4" cy="154.4" r="1.55"/><circle cx="438.0" cy="140.1" r="1.55"/><circle cx="433.8" cy="168.3" r="1.55"/><circle cx="429.8" cy="148.9" r="1.55"/><circle cx="430.6" cy="148.6" r="1.55"/><circle cx="428.0" cy="153.0" r="1.55"/><circle cx="440.7" cy="149.9" r="1.55"/><circle cx="433.5" cy="144.0" r="1.55"/><circle cx="426.6" cy="156.4" r="1.55"/><circle cx="431.8" cy="164.4" r="1.55"/><circle cx="435.3" cy="128.8" r="1.55"/><circle cx="436.4" cy="168.7" r="1.55"/><circle cx="429.7" cy="152.7" r="1.55"/><circle cx="434.5" cy="138.9" r="1.55"/><circle cx="429.7" cy="157.7" r="1.55"/><circle cx="431.5" cy="165.1" r="1.55"/><circle cx="434.8" cy="137.5" r="1.55"/><circle cx="437.5" cy="156.7" r="1.55"/><circle cx="435.6" cy="157.8" r="1.55"/><circle cx="439.6" cy="160.8" r="1.55"/><circle cx="440.7" cy="157.8" r="1.55"/><circle cx="435.8" cy="167.0" r="1.55"/><circle cx="434.8" cy="140.7" r="1.55"/><circle cx="430.8" cy="150.9" r="1.55"/><circle cx="431.8" cy="162.0" r="1.55"/><circle cx="427.4" cy="164.8" r="1.55"/><circle cx="440.9" cy="148.7" r="1.55"/><circle cx="433.3" cy="151.7" r="1.55"/><circle cx="425.5" cy="150.8" r="1.55"/><circle cx="435.2" cy="150.1" r="1.55"/><circle cx="433.3" cy="157.7" r="1.55"/><circle cx="429.6" cy="149.1" r="1.55"/><circle cx="437.9" cy="153.2" r="1.55"/><circle cx="429.1" cy="167.3" r="1.55"/><circle cx="432.8" cy="142.1" r="1.55"/><circle cx="433.8" cy="145.0" r="1.55"/><circle cx="432.6" cy="148.2" r="1.55"/><circle cx="435.4" cy="142.1" r="1.55"/><circle cx="433.1" cy="152.2" r="1.55"/><circle cx="434.5" cy="146.5" r="1.55"/><circle cx="433.4" cy="153.0" r="1.55"/><circle cx="433.2" cy="147.5" r="1.55"/><circle cx="437.7" cy="140.5" r="1.55"/><circle cx="430.3" cy="156.7" r="1.55"/><circle cx="427.0" cy="166.0" r="1.55"/><circle cx="433.9" cy="155.5" r="1.55"/><circle cx="441.8" cy="149.5" r="1.55"/><circle cx="433.8" cy="167.2" r="1.55"/><circle cx="431.0" cy="156.7" r="1.55"/><circle cx="434.3" cy="133.2" r="1.55"/><circle cx="440.3" cy="162.0" r="1.55"/><circle cx="427.7" cy="149.8" r="1.55"/><circle cx="431.1" cy="158.0" r="1.55"/><circle cx="430.4" cy="159.7" r="1.55"/><circle cx="432.3" cy="157.5" r="1.55"/><circle cx="433.4" cy="144.5" r="1.55"/><circle cx="435.5" cy="130.3" r="1.55"/><circle cx="435.7" cy="129.5" r="1.55"/><circle cx="434.9" cy="146.8" r="1.55"/><circle cx="432.2" cy="167.2" r="1.55"/><circle cx="439.9" cy="164.4" r="1.55"/><circle cx="437.2" cy="162.3" r="1.55"/><circle cx="432.5" cy="158.9" r="1.55"/><circle cx="434.8" cy="155.4" r="1.55"/><circle cx="432.4" cy="159.0" r="1.55"/><circle cx="436.7" cy="164.3" r="1.55"/><circle cx="442.3" cy="154.7" r="1.55"/><circle cx="442.4" cy="147.5" r="1.55"/><circle cx="429.9" cy="161.2" r="1.55"/><circle cx="435.6" cy="130.4" r="1.55"/><circle cx="435.0" cy="134.8" r="1.55"/></g>
<path d="M430.10,179.80 L431.30,178.62 L433.00,174.33 L429.20,170.20 L425.10,166.06 L425.10,162.66 L425.10,159.26 L423.80,156.01 L421.70,153.06 L424.20,149.36 L427.20,145.08 L430.90,139.17 L433.30,135.18 L433.40,129.56 L434.80,127.50 L435.40,127.50 L436.80,129.56 L436.90,135.18 L439.30,139.17 L443.00,145.08 L446.00,149.36 L448.50,153.06 L446.40,156.01 L445.10,159.26 L445.10,162.66 L445.10,166.06 L441.00,170.20 L437.20,174.33 L438.90,178.62 L440.10,179.80Z" fill="none" stroke="#8030c0" stroke-width="1.35" stroke-linejoin="round"/>
<path d="M424.4,156.0H445.8" stroke="#111" stroke-width="1.1"/>
<path d="M425.7,166.1H444.5M424.8,149.4H445.4" stroke="#111" stroke-width="1" stroke-dasharray="1.7 1.1"/>
<path d="M472.60,179.80 L474.10,175.07 L473.10,171.67 L472.60,168.72 L473.30,166.50 L473.10,164.73 L471.80,162.07 L471.10,159.56 L472.00,156.90 L472.10,154.53 L470.50,149.36 L468.60,145.52 L468.50,141.53 L465.60,139.61 L462.10,137.84 L462.60,135.48 L463.40,133.85 L465.10,131.04 L465.90,128.83 L465.10,126.31 L464.70,123.66 L465.80,121.00 L467.20,118.48 L471.10,111.98 L473.10,108.14 L473.60,105.63 L473.40,101.49 L473.80,97.06 L473.40,92.63 L475.30,87.60 L475.90,87.60 L477.80,92.63 L477.40,97.06 L477.80,101.49 L477.60,105.63 L478.10,108.14 L480.10,111.98 L484.00,118.48 L485.40,121.00 L486.50,123.66 L486.10,126.31 L485.30,128.83 L486.10,131.04 L487.80,133.85 L488.60,135.48 L489.10,137.84 L485.60,139.61 L482.70,141.53 L482.60,145.52 L480.70,149.36 L479.10,154.53 L479.20,156.90 L480.10,159.56 L479.40,162.07 L478.10,164.73 L477.90,166.50 L478.60,168.72 L478.10,171.67 L477.10,175.07 L478.60,179.80Z" fill="#fbe0e0" stroke="none"/>
<g fill="#f8c4c4" stroke="#f03a3a" stroke-width="0.45" fill-opacity="0.8" stroke-opacity="0.8"><circle cx="475.2" cy="154.8" r="1.55"/><circle cx="481.0" cy="129.0" r="1.55"/><circle cx="477.1" cy="125.5" r="1.55"/><circle cx="479.3" cy="133.7" r="1.55"/><circle cx="475.5" cy="104.4" r="1.55"/><circle cx="476.3" cy="111.5" r="1.55"/><circle cx="477.0" cy="130.5" r="1.55"/><circle cx="472.1" cy="135.1" r="1.55"/><circle cx="473.1" cy="136.1" r="1.55"/><circle cx="473.1" cy="151.9" r="1.55"/><circle cx="471.7" cy="146.8" r="1.55"/><circle cx="477.2" cy="161.4" r="1.55"/><circle cx="471.4" cy="128.1" r="1.55"/><circle cx="469.8" cy="133.0" r="1.55"/><circle cx="482.9" cy="136.6" r="1.55"/><circle cx="476.8" cy="155.6" r="1.55"/><circle cx="476.2" cy="140.6" r="1.55"/><circle cx="477.7" cy="112.9" r="1.55"/><circle cx="470.2" cy="118.2" r="1.55"/><circle cx="467.9" cy="119.2" r="1.55"/><circle cx="476.0" cy="93.9" r="1.55"/><circle cx="469.1" cy="125.5" r="1.55"/><circle cx="464.1" cy="138.3" r="1.55"/><circle cx="475.9" cy="120.3" r="1.55"/><circle cx="477.8" cy="161.4" r="1.55"/><circle cx="471.0" cy="144.0" r="1.55"/><circle cx="477.0" cy="158.1" r="1.55"/><circle cx="471.3" cy="128.3" r="1.55"/><circle cx="475.3" cy="140.7" r="1.55"/><circle cx="468.9" cy="136.2" r="1.55"/><circle cx="483.0" cy="130.6" r="1.55"/><circle cx="475.8" cy="173.7" r="1.55"/><circle cx="470.2" cy="135.9" r="1.55"/><circle cx="481.6" cy="125.0" r="1.55"/><circle cx="471.6" cy="136.4" r="1.55"/><circle cx="474.4" cy="121.5" r="1.55"/><circle cx="475.7" cy="157.3" r="1.55"/><circle cx="469.1" cy="140.5" r="1.55"/><circle cx="473.8" cy="129.9" r="1.55"/><circle cx="477.8" cy="152.4" r="1.55"/><circle cx="475.7" cy="91.2" r="1.55"/><circle cx="476.3" cy="119.0" r="1.55"/><circle cx="476.5" cy="104.5" r="1.55"/><circle cx="467.3" cy="138.2" r="1.55"/><circle cx="482.0" cy="120.8" r="1.55"/><circle cx="474.6" cy="140.7" r="1.55"/><circle cx="475.0" cy="105.9" r="1.55"/><circle cx="478.9" cy="144.1" r="1.55"/><circle cx="474.4" cy="143.0" r="1.55"/><circle cx="468.8" cy="132.8" r="1.55"/><circle cx="467.8" cy="136.1" r="1.55"/><circle cx="476.0" cy="163.5" r="1.55"/><circle cx="478.5" cy="133.0" r="1.55"/><circle cx="475.1" cy="103.2" r="1.55"/><circle cx="476.6" cy="129.9" r="1.55"/><circle cx="474.2" cy="122.6" r="1.55"/><circle cx="474.7" cy="120.8" r="1.55"/><circle cx="477.8" cy="132.6" r="1.55"/><circle cx="473.0" cy="133.8" r="1.55"/><circle cx="475.8" cy="117.7" r="1.55"/><circle cx="468.6" cy="140.6" r="1.55"/><circle cx="475.7" cy="88.2" r="1.55"/><circle cx="475.9" cy="124.0" r="1.55"/><circle cx="473.5" cy="144.6" r="1.55"/><circle cx="478.1" cy="125.0" r="1.55"/><circle cx="477.7" cy="144.9" r="1.55"/><circle cx="474.7" cy="120.3" r="1.55"/><circle cx="474.0" cy="137.6" r="1.55"/><circle cx="477.6" cy="109.7" r="1.55"/><circle cx="474.7" cy="117.0" r="1.55"/><circle cx="474.6" cy="116.7" r="1.55"/><circle cx="481.5" cy="129.4" r="1.55"/><circle cx="478.0" cy="112.7" r="1.55"/><circle cx="472.1" cy="142.1" r="1.55"/><circle cx="476.4" cy="101.4" r="1.55"/><circle cx="474.3" cy="116.2" r="1.55"/><circle cx="488.0" cy="136.0" r="1.55"/><circle cx="474.1" cy="115.3" r="1.55"/><circle cx="476.2" cy="169.1" r="1.55"/><circle cx="469.3" cy="139.7" r="1.55"/><circle cx="475.3" cy="173.6" r="1.55"/><circle cx="475.0" cy="135.2" r="1.55"/><circle cx="472.0" cy="159.6" r="1.55"/><circle cx="479.5" cy="118.5" r="1.55"/><circle cx="474.4" cy="108.5" r="1.55"/><circle cx="475.3" cy="174.4" r="1.55"/><circle cx="475.8" cy="166.6" r="1.55"/><circle cx="475.4" cy="155.7" r="1.55"/><circle cx="476.3" cy="104.6" r="1.55"/><circle cx="467.1" cy="124.6" r="1.55"/><circle cx="472.4" cy="158.4" r="1.55"/><circle cx="476.8" cy="159.3" r="1.55"/><circle cx="477.5" cy="162.9" r="1.55"/><circle cx="480.2" cy="114.6" r="1.55"/><circle cx="475.7" cy="88.8" r="1.55"/><circle cx="484.4" cy="133.3" r="1.55"/><circle cx="475.6" cy="167.6" r="1.55"/><circle cx="476.3" cy="104.2" r="1.55"/><circle cx="475.8" cy="93.2" r="1.55"/><circle cx="475.7" cy="100.6" r="1.55"/><circle cx="478.2" cy="124.7" r="1.55"/><circle cx="478.6" cy="143.3" r="1.55"/><circle cx="472.7" cy="118.7" r="1.55"/><circle cx="475.3" cy="139.5" r="1.55"/><circle cx="468.1" cy="129.6" r="1.55"/><circle cx="482.9" cy="132.1" r="1.55"/><circle cx="473.9" cy="170.6" r="1.55"/><circle cx="474.0" cy="133.4" r="1.55"/><circle cx="470.7" cy="134.4" r="1.55"/><circle cx="479.5" cy="126.0" r="1.55"/><circle cx="475.9" cy="158.5" r="1.55"/><circle cx="478.5" cy="118.7" r="1.55"/><circle cx="476.3" cy="168.8" r="1.55"/><circle cx="470.4" cy="128.4" r="1.55"/><circle cx="470.4" cy="115.3" r="1.55"/><circle cx="477.2" cy="132.6" r="1.55"/><circle cx="475.1" cy="160.4" r="1.55"/><circle cx="477.0" cy="100.1" r="1.55"/><circle cx="471.7" cy="136.7" r="1.55"/><circle cx="468.2" cy="131.4" r="1.55"/><circle cx="476.5" cy="133.5" r="1.55"/><circle cx="477.7" cy="159.7" r="1.55"/><circle cx="475.0" cy="143.1" r="1.55"/><circle cx="482.8" cy="122.6" r="1.55"/><circle cx="473.9" cy="110.6" r="1.55"/><circle cx="477.8" cy="137.1" r="1.55"/><circle cx="475.2" cy="127.6" r="1.55"/><circle cx="471.0" cy="147.8" r="1.55"/><circle cx="479.7" cy="136.1" r="1.55"/><circle cx="473.3" cy="140.3" r="1.55"/><circle cx="484.6" cy="131.8" r="1.55"/><circle cx="478.2" cy="146.2" r="1.55"/><circle cx="473.2" cy="156.1" r="1.55"/><circle cx="477.0" cy="151.2" r="1.55"/><circle cx="465.2" cy="133.1" r="1.55"/><circle cx="476.7" cy="109.9" r="1.55"/><circle cx="476.9" cy="132.9" r="1.55"/><circle cx="476.4" cy="172.8" r="1.55"/><circle cx="475.4" cy="173.2" r="1.55"/><circle cx="465.5" cy="137.9" r="1.55"/><circle cx="484.5" cy="126.3" r="1.55"/><circle cx="474.7" cy="155.4" r="1.55"/><circle cx="473.4" cy="111.6" r="1.55"/><circle cx="479.0" cy="120.8" r="1.55"/><circle cx="476.5" cy="105.6" r="1.55"/><circle cx="475.6" cy="124.6" r="1.55"/><circle cx="470.4" cy="116.5" r="1.55"/><circle cx="479.5" cy="127.6" r="1.55"/><circle cx="475.2" cy="162.3" r="1.55"/><circle cx="474.9" cy="103.5" r="1.55"/><circle cx="470.5" cy="139.0" r="1.55"/><circle cx="484.9" cy="137.5" r="1.55"/><circle cx="473.1" cy="161.2" r="1.55"/><circle cx="476.2" cy="158.1" r="1.55"/><circle cx="473.8" cy="144.7" r="1.55"/><circle cx="471.1" cy="121.8" r="1.55"/><circle cx="476.0" cy="156.2" r="1.55"/><circle cx="474.6" cy="124.0" r="1.55"/><circle cx="474.8" cy="112.7" r="1.55"/><circle cx="473.2" cy="119.6" r="1.55"/><circle cx="466.7" cy="128.6" r="1.55"/><circle cx="470.0" cy="145.4" r="1.55"/><circle cx="479.1" cy="137.4" r="1.55"/><circle cx="478.4" cy="142.1" r="1.55"/><circle cx="472.1" cy="120.7" r="1.55"/><circle cx="477.2" cy="156.5" r="1.55"/><circle cx="478.4" cy="120.9" r="1.55"/><circle cx="474.2" cy="154.1" r="1.55"/><circle cx="476.4" cy="108.1" r="1.55"/><circle cx="477.4" cy="168.5" r="1.55"/><circle cx="475.5" cy="156.9" r="1.55"/><circle cx="473.4" cy="132.6" r="1.55"/><circle cx="477.8" cy="130.1" r="1.55"/><circle cx="475.2" cy="109.9" r="1.55"/><circle cx="475.4" cy="174.8" r="1.55"/><circle cx="467.9" cy="126.7" r="1.55"/><circle cx="477.7" cy="158.0" r="1.55"/><circle cx="474.7" cy="115.3" r="1.55"/><circle cx="477.4" cy="136.1" r="1.55"/><circle cx="473.4" cy="113.3" r="1.55"/><circle cx="473.7" cy="153.0" r="1.55"/><circle cx="478.2" cy="125.6" r="1.55"/><circle cx="473.1" cy="137.4" r="1.55"/><circle cx="471.2" cy="134.4" r="1.55"/><circle cx="474.6" cy="146.3" r="1.55"/><circle cx="478.1" cy="137.3" r="1.55"/><circle cx="475.4" cy="135.3" r="1.55"/><circle cx="473.9" cy="119.4" r="1.55"/><circle cx="473.7" cy="129.5" r="1.55"/><circle cx="471.4" cy="128.5" r="1.55"/><circle cx="471.2" cy="126.3" r="1.55"/><circle cx="475.4" cy="125.9" r="1.55"/><circle cx="474.4" cy="123.2" r="1.55"/><circle cx="477.2" cy="157.1" r="1.55"/><circle cx="479.4" cy="127.2" r="1.55"/><circle cx="480.7" cy="138.6" r="1.55"/><circle cx="476.7" cy="107.7" r="1.55"/><circle cx="474.7" cy="135.8" r="1.55"/><circle cx="472.8" cy="115.2" r="1.55"/><circle cx="477.2" cy="118.1" r="1.55"/><circle cx="474.9" cy="101.0" r="1.55"/><circle cx="471.6" cy="140.9" r="1.55"/><circle cx="472.7" cy="136.7" r="1.55"/><circle cx="470.1" cy="123.0" r="1.55"/><circle cx="477.6" cy="142.4" r="1.55"/><circle cx="474.2" cy="162.4" r="1.55"/><circle cx="475.5" cy="128.4" r="1.55"/><circle cx="476.5" cy="144.8" r="1.55"/><circle cx="469.1" cy="132.4" r="1.55"/><circle cx="469.3" cy="125.4" r="1.55"/><circle cx="477.6" cy="127.2" r="1.55"/><circle cx="477.1" cy="143.2" r="1.55"/><circle cx="475.2" cy="130.5" r="1.55"/><circle cx="468.0" cy="134.3" r="1.55"/><circle cx="474.6" cy="150.7" r="1.55"/><circle cx="476.5" cy="111.5" r="1.55"/><circle cx="477.5" cy="126.0" r="1.55"/><circle cx="479.5" cy="135.7" r="1.55"/><circle cx="474.9" cy="169.4" r="1.55"/><circle cx="479.0" cy="121.0" r="1.55"/><circle cx="473.3" cy="152.4" r="1.55"/><circle cx="471.1" cy="119.3" r="1.55"/><circle cx="475.0" cy="123.2" r="1.55"/><circle cx="473.0" cy="131.1" r="1.55"/><circle cx="473.2" cy="124.3" r="1.55"/><circle cx="476.4" cy="153.5" r="1.55"/><circle cx="471.5" cy="114.5" r="1.55"/><circle cx="475.1" cy="170.2" r="1.55"/><circle cx="476.8" cy="108.2" r="1.55"/><circle cx="472.7" cy="136.9" r="1.55"/><circle cx="474.4" cy="137.6" r="1.55"/><circle cx="475.0" cy="125.1" r="1.55"/><circle cx="483.0" cy="133.8" r="1.55"/><circle cx="474.0" cy="159.4" r="1.55"/><circle cx="471.7" cy="149.8" r="1.55"/><circle cx="471.2" cy="141.1" r="1.55"/><circle cx="478.3" cy="159.3" r="1.55"/><circle cx="479.2" cy="149.8" r="1.55"/><circle cx="469.4" cy="128.0" r="1.55"/><circle cx="473.9" cy="165.1" r="1.55"/><circle cx="481.3" cy="137.3" r="1.55"/><circle cx="480.1" cy="128.6" r="1.55"/><circle cx="478.9" cy="150.2" r="1.55"/><circle cx="473.2" cy="156.4" r="1.55"/><circle cx="480.9" cy="131.1" r="1.55"/><circle cx="476.0" cy="164.9" r="1.55"/><circle cx="475.7" cy="172.2" r="1.55"/><circle cx="469.9" cy="132.2" r="1.55"/><circle cx="483.3" cy="139.8" r="1.55"/><circle cx="475.4" cy="118.3" r="1.55"/><circle cx="474.4" cy="110.2" r="1.55"/><circle cx="474.9" cy="168.3" r="1.55"/><circle cx="467.0" cy="121.6" r="1.55"/><circle cx="478.6" cy="125.5" r="1.55"/><circle cx="472.7" cy="139.6" r="1.55"/><circle cx="473.2" cy="139.0" r="1.55"/><circle cx="474.8" cy="164.4" r="1.55"/><circle cx="478.9" cy="151.0" r="1.55"/><circle cx="476.1" cy="179.2" r="1.55"/><circle cx="470.9" cy="125.4" r="1.55"/><circle cx="474.4" cy="159.9" r="1.55"/><circle cx="473.2" cy="114.2" r="1.55"/><circle cx="468.3" cy="124.6" r="1.55"/><circle cx="476.1" cy="125.8" r="1.55"/><circle cx="481.6" cy="133.6" r="1.55"/><circle cx="476.2" cy="135.8" r="1.55"/><circle cx="474.4" cy="142.4" r="1.55"/><circle cx="473.7" cy="134.5" r="1.55"/><circle cx="477.4" cy="152.8" r="1.55"/><circle cx="471.1" cy="121.7" r="1.55"/><circle cx="476.5" cy="120.7" r="1.55"/><circle cx="476.9" cy="122.1" r="1.55"/><circle cx="476.8" cy="125.1" r="1.55"/><circle cx="476.6" cy="121.1" r="1.55"/><circle cx="475.2" cy="150.5" r="1.55"/><circle cx="470.5" cy="140.2" r="1.55"/><circle cx="473.7" cy="134.6" r="1.55"/><circle cx="476.1" cy="131.9" r="1.55"/><circle cx="469.0" cy="128.3" r="1.55"/><circle cx="470.9" cy="148.0" r="1.55"/><circle cx="473.7" cy="148.9" r="1.55"/><circle cx="474.4" cy="130.4" r="1.55"/><circle cx="475.3" cy="123.1" r="1.55"/><circle cx="467.6" cy="131.4" r="1.55"/><circle cx="470.3" cy="146.6" r="1.55"/><circle cx="470.3" cy="142.6" r="1.55"/><circle cx="476.0" cy="174.0" r="1.55"/><circle cx="475.0" cy="152.2" r="1.55"/><circle cx="480.1" cy="132.3" r="1.55"/><circle cx="475.9" cy="114.3" r="1.55"/><circle cx="475.5" cy="173.8" r="1.55"/><circle cx="479.1" cy="128.9" r="1.55"/><circle cx="476.5" cy="130.3" r="1.55"/><circle cx="476.2" cy="95.3" r="1.55"/><circle cx="467.3" cy="134.4" r="1.55"/><circle cx="475.7" cy="144.9" r="1.55"/><circle cx="472.8" cy="142.6" r="1.55"/><circle cx="473.4" cy="111.5" r="1.55"/><circle cx="475.2" cy="151.5" r="1.55"/><circle cx="478.2" cy="147.8" r="1.55"/><circle cx="477.5" cy="119.0" r="1.55"/><circle cx="470.6" cy="119.7" r="1.55"/><circle cx="472.8" cy="154.3" r="1.55"/><circle cx="481.2" cy="145.7" r="1.55"/><circle cx="478.0" cy="153.7" r="1.55"/><circle cx="471.3" cy="130.7" r="1.55"/><circle cx="472.8" cy="152.5" r="1.55"/><circle cx="472.9" cy="123.0" r="1.55"/><circle cx="477.4" cy="163.4" r="1.55"/><circle cx="472.3" cy="136.3" r="1.55"/><circle cx="470.3" cy="117.0" r="1.55"/><circle cx="474.3" cy="132.4" r="1.55"/><circle cx="468.6" cy="126.3" r="1.55"/><circle cx="478.0" cy="133.7" r="1.55"/><circle cx="471.8" cy="150.5" r="1.55"/><circle cx="479.3" cy="133.5" r="1.55"/><circle cx="471.3" cy="125.6" r="1.55"/><circle cx="475.7" cy="103.1" r="1.55"/><circle cx="476.9" cy="141.9" r="1.55"/><circle cx="480.0" cy="133.1" r="1.55"/><circle cx="472.6" cy="137.3" r="1.55"/><circle cx="476.5" cy="108.9" r="1.55"/><circle cx="476.4" cy="116.0" r="1.55"/><circle cx="477.6" cy="109.5" r="1.55"/><circle cx="481.5" cy="120.5" r="1.55"/><circle cx="477.9" cy="146.4" r="1.55"/><circle cx="476.9" cy="163.7" r="1.55"/><circle cx="464.4" cy="136.2" r="1.55"/><circle cx="480.9" cy="128.0" r="1.55"/><circle cx="477.2" cy="116.0" r="1.55"/></g>
<path d="M472.60,179.80 L474.10,175.07 L473.10,171.67 L472.60,168.72 L473.30,166.50 L473.10,164.73 L471.80,162.07 L471.10,159.56 L472.00,156.90 L472.10,154.53 L470.50,149.36 L468.60,145.52 L468.50,141.53 L465.60,139.61 L462.10,137.84 L462.60,135.48 L463.40,133.85 L465.10,131.04 L465.90,128.83 L465.10,126.31 L464.70,123.66 L465.80,121.00 L467.20,118.48 L471.10,111.98 L473.10,108.14 L473.60,105.63 L473.40,101.49 L473.80,97.06 L473.40,92.63 L475.30,87.60 L475.90,87.60 L477.80,92.63 L477.40,97.06 L477.80,101.49 L477.60,105.63 L478.10,108.14 L480.10,111.98 L484.00,118.48 L485.40,121.00 L486.50,123.66 L486.10,126.31 L485.30,128.83 L486.10,131.04 L487.80,133.85 L488.60,135.48 L489.10,137.84 L485.60,139.61 L482.70,141.53 L482.60,145.52 L480.70,149.36 L479.10,154.53 L479.20,156.90 L480.10,159.56 L479.40,162.07 L478.10,164.73 L477.90,166.50 L478.60,168.72 L478.10,171.67 L477.10,175.07 L478.60,179.80Z" fill="none" stroke="#ee1c24" stroke-width="1.35" stroke-linejoin="round"/>
<path d="M463.8,134.3H487.4" stroke="#111" stroke-width="1.1"/>
<path d="M469.2,143.6H482.0M465.5,123.2H485.7" stroke="#111" stroke-width="1" stroke-dasharray="1.7 1.1"/>
<text x="1.2" y="274.6" font-size="14.6" font-weight="bold" stroke="#000" stroke-width="0.3">C</text>
<path d="M41.2,274.6H518.3" stroke="#2a1f1f" stroke-width="1.1"/>
<text x="280.0" y="271.2" font-size="10.35" text-anchor="middle" stroke="#000" stroke-width="0.22">TCGA (COADREAD)</text>
<text x="110.6" y="286.2" font-size="10.35" text-anchor="middle" stroke="#000" stroke-width="0.22">Gene signature of</text>
<text x="109.7" y="296.6" font-size="10.35" text-anchor="middle" stroke="#000" stroke-width="0.22">NE-stimulated AKP organoids</text>
<text x="280.2" y="292.6" font-size="10.35" text-anchor="middle" stroke="#000" stroke-width="0.22">YAP gene signature</text>
<text x="448.6" y="293.8" font-size="10.35" text-anchor="middle" stroke="#000" stroke-width="0.22">PI3K-AKT signaling pathway</text>
<text x="0" y="0" font-size="10.35" text-anchor="middle" stroke="#000" stroke-width="0.22" transform="translate(21.0,343.2) rotate(-90)">Enrichment score</text>
<path d="M42.6,310.4V369.7" stroke="#000" stroke-width="1"/>
<path d="M38.6,369.7H42.6M40.2,359.0H42.6M38.6,348.3H42.6M40.2,337.6H42.6M38.6,326.9H42.6M40.2,316.2H42.6" stroke="#000" stroke-width="0.9"/>
<path d="M42.6,369.7H180.5" stroke="#2a1f1f" stroke-width="1.1"/>
<polyline points="42.6,369.5 43.0,364.6 43.5,358.1 44.0,352.7 44.5,348.0 45.2,343.2 46.0,339.1 46.7,336.9 47.6,334.6 48.5,332.8 49.1,332.1 49.8,330.8 50.5,329.9 51.3,328.4 52.0,327.5 52.8,326.3 53.5,324.6 54.3,323.5 55.1,322.1 56.0,320.3 56.7,319.2 57.5,318.3 58.3,317.4 59.1,316.1 60.0,315.1 60.8,314.5 61.5,313.8 62.1,313.6 62.7,313.4 63.4,313.3 64.1,313.1 65.0,313.0 66.0,312.9 66.6,312.9 67.2,312.8 67.9,312.6 68.6,313.0 69.4,312.8 70.1,312.8 70.9,312.6 71.7,313.0 72.5,312.9 73.3,312.5 74.1,312.7 74.8,312.9 75.5,312.9 76.2,313.1 77.0,313.0 77.8,313.3 78.5,313.4 79.2,313.3 79.9,313.7 80.6,314.0 81.3,314.2 82.0,314.3 82.6,314.5 83.3,314.5 84.0,314.9 84.8,315.4 85.5,315.6 86.3,315.8 87.0,316.3 87.8,316.7 88.5,317.1 89.3,317.3 90.0,317.7 90.8,318.1 91.5,318.6 92.2,318.9 93.0,319.2 93.7,319.7 94.5,319.9 95.2,320.3 96.0,321.1 96.7,321.7 97.5,321.9 98.2,322.3 99.0,322.6 99.7,323.2 100.4,323.9 101.1,324.2 101.9,324.5 102.6,325.1 103.3,325.2 104.0,325.8 104.8,326.5 105.5,326.8 106.2,327.2 106.9,327.6 107.7,328.3 108.4,329.0 109.2,329.1 110.0,330.1 110.7,330.7 111.5,331.3 112.2,331.8 113.0,332.4 113.7,332.9 114.5,333.5 115.2,334.0 115.9,334.4 116.6,335.4 117.3,335.8 118.0,336.2 118.8,337.0 119.5,337.6 120.2,338.1 120.9,338.7 121.6,339.4 122.3,340.1 123.0,340.7 123.7,341.2 124.4,341.6 125.1,342.4 125.8,343.0 126.5,343.8 127.2,344.6 127.9,345.2 128.6,345.9 129.3,346.5 130.0,346.9 130.8,347.9 131.5,348.5 132.3,348.9 133.1,349.6 133.9,350.3 134.6,351.3 135.4,351.8 136.2,352.4 136.9,353.3 137.7,353.7 138.4,354.2 139.2,354.8 139.9,355.5 140.6,355.8 141.3,356.3 142.0,357.0 142.8,357.4 143.5,357.8 144.2,358.3 145.0,358.6 145.7,359.2 146.4,359.6 147.2,359.9 147.9,360.2 148.7,361.0 149.5,361.2 150.2,361.4 150.9,362.0 151.7,362.5 152.3,362.4 153.0,362.8 153.8,363.3 154.6,364.0 155.4,364.1 156.1,364.7 156.8,365.1 157.5,365.3 158.2,365.5 159.0,366.2 159.7,366.4 160.4,366.6 161.2,366.7 161.9,367.2 162.7,367.3 163.4,367.7 164.1,367.8 164.8,368.1 165.4,368.1 166.3,368.5 167.1,369.1 167.8,369.3 168.5,369.3 169.3,369.8 170.0,369.7 170.8,370.2 171.6,370.3 172.4,370.3 173.2,370.4 173.9,370.4 174.6,371.0 175.5,370.7 176.4,371.2 177.2,371.3 178.0,371.0 178.8,370.7 179.6,370.8 180.3,370.6 180.8,370.2" fill="none" stroke="#14963c" stroke-width="1.8" stroke-linejoin="round"/>
<rect x="42.9" y="375.6" width="137.7" height="20.2" fill="#050505"/><rect x="42.90" y="375.6" width="0.96" height="20.2" fill="rgb(29,29,29)"/>
<rect x="43.81" y="375.6" width="0.96" height="20.2" fill="rgb(12,12,12)"/>
<rect x="44.71" y="375.6" width="0.72" height="20.2" fill="rgb(11,11,11)"/>
<rect x="45.38" y="375.6" width="0.63" height="20.2" fill="rgb(5,5,5)"/>
<rect x="45.96" y="375.6" width="1.03" height="20.2" fill="rgb(2,2,2)"/>
<rect x="46.95" y="375.6" width="1.09" height="20.2" fill="rgb(28,28,28)"/>
<rect x="47.99" y="375.6" width="1.14" height="20.2" fill="rgb(10,10,10)"/>
<rect x="49.07" y="375.6" width="1.11" height="20.2" fill="rgb(4,4,4)"/>
<rect x="50.13" y="375.6" width="0.60" height="20.2" fill="rgb(15,15,15)"/>
<rect x="50.69" y="375.6" width="1.09" height="20.2" fill="rgb(20,20,20)"/>
<rect x="51.73" y="375.6" width="0.95" height="20.2" fill="rgb(33,33,33)"/>
<rect x="52.62" y="375.6" width="0.76" height="20.2" fill="rgb(0,0,0)"/>
<rect x="53.33" y="375.6" width="1.15" height="20.2" fill="rgb(17,17,17)"/>
<rect x="54.43" y="375.6" width="0.92" height="20.2" fill="rgb(5,5,5)"/>
<rect x="55.30" y="375.6" width="1.19" height="20.2" fill="rgb(14,14,14)"/>
<rect x="56.43" y="375.6" width="1.01" height="20.2" fill="rgb(6,6,6)"/>
<rect x="57.40" y="375.6" width="0.91" height="20.2" fill="rgb(24,24,24)"/>
<rect x="58.26" y="375.6" width="0.61" height="20.2" fill="rgb(0,0,0)"/>
<rect x="58.82" y="375.6" width="0.74" height="20.2" fill="rgb(3,3,3)"/>
<rect x="59.51" y="375.6" width="0.97" height="20.2" fill="rgb(25,25,25)"/>
<rect x="60.43" y="375.6" width="0.93" height="20.2" fill="rgb(12,12,12)"/>
<rect x="61.31" y="375.6" width="1.25" height="20.2" fill="rgb(5,5,5)"/>
<rect x="62.51" y="375.6" width="0.83" height="20.2" fill="rgb(26,26,26)"/>
<rect x="63.29" y="375.6" width="1.23" height="20.2" fill="rgb(15,15,15)"/>
<rect x="64.47" y="375.6" width="1.19" height="20.2" fill="rgb(29,29,29)"/>
<rect x="65.61" y="375.6" width="1.27" height="20.2" fill="rgb(35,35,35)"/>
<rect x="66.83" y="375.6" width="0.72" height="20.2" fill="rgb(8,8,8)"/>
<rect x="67.50" y="375.6" width="0.93" height="20.2" fill="rgb(25,25,25)"/>
<rect x="68.37" y="375.6" width="0.93" height="20.2" fill="rgb(17,17,17)"/>
<rect x="71.56" y="375.6" width="0.57" height="20.2" fill="rgb(6,6,6)"/>
<rect x="72.08" y="375.6" width="0.59" height="20.2" fill="rgb(28,28,28)"/>
<rect x="72.62" y="375.6" width="0.78" height="20.2" fill="rgb(102,102,102)"/>
<rect x="73.35" y="375.6" width="1.30" height="20.2" fill="rgb(4,4,4)"/>
<rect x="74.60" y="375.6" width="0.63" height="20.2" fill="rgb(15,15,15)"/>
<rect x="75.18" y="375.6" width="0.56" height="20.2" fill="rgb(29,29,29)"/>
<rect x="75.69" y="375.6" width="0.66" height="20.2" fill="rgb(8,8,8)"/>
<rect x="76.31" y="375.6" width="1.33" height="20.2" fill="rgb(9,9,9)"/>
<rect x="77.59" y="375.6" width="0.83" height="20.2" fill="rgb(15,15,15)"/>
<rect x="78.37" y="375.6" width="1.20" height="20.2" fill="rgb(35,35,35)"/>
<rect x="79.52" y="375.6" width="0.73" height="20.2" fill="rgb(121,121,121)"/>
<rect x="80.20" y="375.6" width="1.09" height="20.2" fill="rgb(6,6,6)"/>
<rect x="81.24" y="375.6" width="0.65" height="20.2" fill="rgb(16,16,16)"/>
<rect x="81.84" y="375.6" width="0.76" height="20.2" fill="rgb(92,92,92)"/>
<rect x="82.55" y="375.6" width="0.93" height="20.2" fill="rgb(122,122,122)"/>
<rect x="83.43" y="375.6" width="0.81" height="20.2" fill="rgb(4,4,4)"/>
<rect x="84.20" y="375.6" width="0.66" height="20.2" fill="rgb(4,4,4)"/>
<rect x="84.81" y="375.6" width="0.80" height="20.2" fill="rgb(86,86,86)"/>
<rect x="85.56" y="375.6" width="1.22" height="20.2" fill="rgb(26,26,26)"/>
<rect x="86.74" y="375.6" width="0.95" height="20.2" fill="rgb(11,11,11)"/>
<rect x="87.64" y="375.6" width="0.80" height="20.2" fill="rgb(8,8,8)"/>
<rect x="88.39" y="375.6" width="0.63" height="20.2" fill="rgb(28,28,28)"/>
<rect x="88.97" y="375.6" width="1.43" height="20.2" fill="rgb(148,148,148)"/>
<rect x="90.36" y="375.6" width="1.02" height="20.2" fill="rgb(135,135,135)"/>
<rect x="91.33" y="375.6" width="0.58" height="20.2" fill="rgb(22,22,22)"/>
<rect x="91.86" y="375.6" width="1.18" height="20.2" fill="rgb(62,62,62)"/>
<rect x="92.99" y="375.6" width="1.09" height="20.2" fill="rgb(4,4,4)"/>
<rect x="94.03" y="375.6" width="1.21" height="20.2" fill="rgb(4,4,4)"/>
<rect x="95.18" y="375.6" width="0.62" height="20.2" fill="rgb(2,2,2)"/>
<rect x="95.75" y="375.6" width="1.36" height="20.2" fill="rgb(150,150,150)"/>
<rect x="97.06" y="375.6" width="0.67" height="20.2" fill="rgb(103,103,103)"/>
<rect x="97.68" y="375.6" width="0.87" height="20.2" fill="rgb(69,69,69)"/>
<rect x="98.50" y="375.6" width="1.33" height="20.2" fill="rgb(1,1,1)"/>
<rect x="99.78" y="375.6" width="1.33" height="20.2" fill="rgb(24,24,24)"/>
<rect x="101.06" y="375.6" width="0.89" height="20.2" fill="rgb(4,4,4)"/>
<rect x="101.90" y="375.6" width="0.62" height="20.2" fill="rgb(92,92,92)"/>
<rect x="102.47" y="375.6" width="1.34" height="20.2" fill="rgb(109,109,109)"/>
<rect x="103.76" y="375.6" width="1.39" height="20.2" fill="rgb(118,118,118)"/>
<rect x="105.10" y="375.6" width="0.95" height="20.2" fill="rgb(70,70,70)"/>
<rect x="106.00" y="375.6" width="1.02" height="20.2" fill="rgb(19,19,19)"/>
<rect x="106.97" y="375.6" width="1.09" height="20.2" fill="rgb(14,14,14)"/>
<rect x="108.01" y="375.6" width="1.41" height="20.2" fill="rgb(31,31,31)"/>
<rect x="109.37" y="375.6" width="0.78" height="20.2" fill="rgb(19,19,19)"/>
<rect x="110.10" y="375.6" width="0.68" height="20.2" fill="rgb(126,126,126)"/>
<rect x="110.73" y="375.6" width="0.70" height="20.2" fill="rgb(144,144,144)"/>
<rect x="111.38" y="375.6" width="1.39" height="20.2" fill="rgb(15,15,15)"/>
<rect x="112.72" y="375.6" width="0.84" height="20.2" fill="rgb(85,85,85)"/>
<rect x="113.51" y="375.6" width="1.12" height="20.2" fill="rgb(156,156,156)"/>
<rect x="114.58" y="375.6" width="1.37" height="20.2" fill="rgb(109,109,109)"/>
<rect x="115.91" y="375.6" width="0.75" height="20.2" fill="rgb(86,86,86)"/>
<rect x="116.60" y="375.6" width="0.67" height="20.2" fill="rgb(2,2,2)"/>
<rect x="117.23" y="375.6" width="1.19" height="20.2" fill="rgb(95,95,95)"/>
<rect x="118.37" y="375.6" width="1.29" height="20.2" fill="rgb(30,30,30)"/>
<rect x="119.61" y="375.6" width="0.80" height="20.2" fill="rgb(26,26,26)"/>
<rect x="120.35" y="375.6" width="0.89" height="20.2" fill="rgb(20,20,20)"/>
<rect x="121.20" y="375.6" width="1.19" height="20.2" fill="rgb(139,139,139)"/>
<rect x="122.34" y="375.6" width="0.96" height="20.2" fill="rgb(2,2,2)"/>
<rect x="123.25" y="375.6" width="0.80" height="20.2" fill="rgb(146,146,146)"/>
<rect x="124.00" y="375.6" width="1.19" height="20.2" fill="rgb(19,19,19)"/>
<rect x="125.14" y="375.6" width="1.13" height="20.2" fill="rgb(8,8,8)"/>
<rect x="126.22" y="375.6" width="0.91" height="20.2" fill="rgb(17,17,17)"/>
<rect x="127.09" y="375.6" width="0.76" height="20.2" fill="rgb(3,3,3)"/>
<rect x="127.80" y="375.6" width="1.44" height="20.2" fill="rgb(6,6,6)"/>
<rect x="129.19" y="375.6" width="1.12" height="20.2" fill="rgb(163,163,163)"/>
<rect x="130.25" y="375.6" width="0.88" height="20.2" fill="rgb(12,12,12)"/>
<rect x="131.08" y="375.6" width="0.73" height="20.2" fill="rgb(11,11,11)"/>
<rect x="131.76" y="375.6" width="1.19" height="20.2" fill="rgb(128,128,128)"/>
<rect x="132.91" y="375.6" width="1.19" height="20.2" fill="rgb(17,17,17)"/>
<rect x="134.05" y="375.6" width="1.25" height="20.2" fill="rgb(33,33,33)"/>
<rect x="136.20" y="375.6" width="0.69" height="20.2" fill="rgb(149,149,149)"/>
<rect x="136.84" y="375.6" width="1.37" height="20.2" fill="rgb(24,24,24)"/>
<rect x="138.16" y="375.6" width="0.67" height="20.2" fill="rgb(0,0,0)"/>
<rect x="138.78" y="375.6" width="0.89" height="20.2" fill="rgb(32,32,32)"/>
<rect x="139.62" y="375.6" width="1.27" height="20.2" fill="rgb(119,119,119)"/>
<rect x="141.63" y="375.6" width="0.64" height="20.2" fill="rgb(162,162,162)"/>
<rect x="142.22" y="375.6" width="1.13" height="20.2" fill="rgb(87,87,87)"/>
<rect x="143.29" y="375.6" width="0.77" height="20.2" fill="rgb(5,5,5)"/>
<rect x="144.01" y="375.6" width="1.43" height="20.2" fill="rgb(20,20,20)"/>
<rect x="145.39" y="375.6" width="0.79" height="20.2" fill="rgb(62,62,62)"/>
<rect x="146.13" y="375.6" width="0.86" height="20.2" fill="rgb(28,28,28)"/>
<rect x="146.94" y="375.6" width="0.86" height="20.2" fill="rgb(17,17,17)"/>
<rect x="147.75" y="375.6" width="0.99" height="20.2" fill="rgb(4,4,4)"/>
<rect x="148.69" y="375.6" width="0.94" height="20.2" fill="rgb(34,34,34)"/>
<rect x="149.57" y="375.6" width="0.85" height="20.2" fill="rgb(77,77,77)"/>
<rect x="151.30" y="375.6" width="1.36" height="20.2" fill="rgb(28,28,28)"/>
<rect x="152.61" y="375.6" width="1.40" height="20.2" fill="rgb(5,5,5)"/>
<rect x="153.96" y="375.6" width="1.23" height="20.2" fill="rgb(35,35,35)"/>
<rect x="155.14" y="375.6" width="0.81" height="20.2" fill="rgb(141,141,141)"/>
<rect x="155.90" y="375.6" width="0.70" height="20.2" fill="rgb(35,35,35)"/>
<rect x="156.55" y="375.6" width="0.78" height="20.2" fill="rgb(168,168,168)"/>
<rect x="157.28" y="375.6" width="1.33" height="20.2" fill="rgb(98,98,98)"/>
<rect x="158.56" y="375.6" width="1.32" height="20.2" fill="rgb(127,127,127)"/>
<rect x="159.83" y="375.6" width="0.80" height="20.2" fill="rgb(26,26,26)"/>
<rect x="160.58" y="375.6" width="1.03" height="20.2" fill="rgb(24,24,24)"/>
<rect x="161.56" y="375.6" width="0.57" height="20.2" fill="rgb(126,126,126)"/>
<rect x="162.08" y="375.6" width="1.38" height="20.2" fill="rgb(7,7,7)"/>
<rect x="163.41" y="375.6" width="0.99" height="20.2" fill="rgb(68,68,68)"/>
<rect x="164.35" y="375.6" width="1.39" height="20.2" fill="rgb(25,25,25)"/>
<rect x="165.69" y="375.6" width="0.79" height="20.2" fill="rgb(8,8,8)"/>
<rect x="166.43" y="375.6" width="0.86" height="20.2" fill="rgb(120,120,120)"/>
<rect x="167.24" y="375.6" width="1.02" height="20.2" fill="rgb(26,26,26)"/>
<rect x="168.21" y="375.6" width="1.11" height="20.2" fill="rgb(76,76,76)"/>
<rect x="170.40" y="375.6" width="0.58" height="20.2" fill="rgb(0,0,0)"/>
<rect x="170.93" y="375.6" width="1.17" height="20.2" fill="rgb(22,22,22)"/>
<rect x="172.05" y="375.6" width="0.77" height="20.2" fill="rgb(31,31,31)"/>
<rect x="172.77" y="375.6" width="1.21" height="20.2" fill="rgb(32,32,32)"/>
<rect x="173.92" y="375.6" width="1.11" height="20.2" fill="rgb(149,149,149)"/>
<rect x="174.99" y="375.6" width="1.03" height="20.2" fill="rgb(24,24,24)"/>
<rect x="175.96" y="375.6" width="1.12" height="20.2" fill="rgb(138,138,138)"/>
<rect x="177.03" y="375.6" width="0.69" height="20.2" fill="rgb(34,34,34)"/>
<rect x="177.68" y="375.6" width="1.12" height="20.2" fill="rgb(34,34,34)"/>
<rect x="178.75" y="375.6" width="1.10" height="20.2" fill="rgb(89,89,89)"/>
<rect x="179.80" y="375.6" width="0.85" height="20.2" fill="rgb(104,104,104)"/>
<rect x="103.0" y="375.6" width="1.0" height="20.2" fill="#fff"/>
<rect x="121.0" y="375.6" width="1.0" height="20.2" fill="#fff"/>
<rect x="122.6" y="375.6" width="3.200000000000003" height="20.2" fill="#fff"/>
<rect x="42.60" y="395.9" width="3.75" height="4.8" fill="#e3191e"/>
<rect x="46.05" y="395.9" width="8.57" height="4.8" fill="#f0444a"/>
<rect x="54.32" y="395.9" width="18.23" height="4.8" fill="#f45a62"/>
<rect x="72.25" y="395.9" width="14.09" height="4.8" fill="#f6727a"/>
<rect x="86.04" y="395.9" width="18.23" height="4.8" fill="#f78a90"/>
<rect x="103.97" y="395.9" width="22.36" height="4.8" fill="#f9bde0"/>
<rect x="126.03" y="395.9" width="12.71" height="4.8" fill="#d4d4fb"/>
<rect x="138.44" y="395.9" width="9.95" height="4.8" fill="#bcbcf9"/>
<rect x="148.09" y="395.9" width="8.57" height="4.8" fill="#8282f2"/>
<rect x="156.37" y="395.9" width="14.09" height="4.8" fill="#5d5de9"/>
<rect x="170.16" y="395.9" width="10.64" height="4.8" fill="#2a12d0"/>
<text x="41.4" y="411.2" font-size="10.35" fill="#e8202a" stroke="#e8202a" stroke-width="0.22"><tspan font-style="italic">NGF</tspan>-high</text>
<text x="179.7" y="411.2" font-size="10.35" text-anchor="end" fill="#1a1aff" stroke="#1a1aff" stroke-width="0.22"><tspan font-style="italic">NGF</tspan>-low</text>
<text x="39.3" y="373.2" font-size="10.35" text-anchor="end" stroke="#000" stroke-width="0.22">0.0</text>
<text x="39.3" y="351.8" font-size="10.35" text-anchor="end" stroke="#000" stroke-width="0.22">0.2</text>
<text x="39.3" y="330.4" font-size="10.35" text-anchor="end" stroke="#000" stroke-width="0.22">0.4</text>
<text x="127.6" y="317.3" font-size="10.35" stroke="#000" stroke-width="0.22">NES = 2.09</text>
<text x="127.6" y="329.8" font-size="10.35" stroke="#000" stroke-width="0.22"><tspan font-style="italic">P</tspan> &lt; 0.001</text>
<path d="M212.7,309.2V371.5" stroke="#000" stroke-width="1"/>
<path d="M208.7,371.5H212.7M210.29999999999998,361.5H212.7M208.7,351.5H212.7M210.29999999999998,341.5H212.7M208.7,331.5H212.7M210.29999999999998,321.5H212.7M208.7,311.5H212.7" stroke="#000" stroke-width="0.9"/>
<path d="M212.7,371.5H349.6" stroke="#2a1f1f" stroke-width="1.1"/>
<polyline points="212.7,372.1 213.0,367.3 213.5,359.8 214.1,355.8 214.9,352.7 215.8,348.4 216.5,345.0 217.3,341.1 218.1,338.3 218.8,335.9 219.6,334.2 220.4,333.0 221.1,332.5 221.9,331.5 222.7,330.9 223.5,330.3 224.3,329.3 225.1,327.9 225.8,326.8 226.5,325.5 227.3,323.3 227.9,321.3 228.8,320.4 229.5,319.6 230.3,319.4 231.1,320.0 231.9,319.2 232.7,318.9 233.5,317.5 234.2,316.1 234.9,315.4 235.8,314.5 236.5,314.9 237.2,315.7 238.0,315.6 238.8,315.1 239.6,316.3 240.4,316.2 241.1,315.9 241.9,315.7 242.6,315.0 243.3,314.5 244.1,313.5 245.0,314.2 245.7,314.2 246.4,313.1 247.1,314.2 247.9,314.4 248.7,314.3 249.5,314.6 250.3,314.8 251.2,315.6 251.9,315.1 252.6,315.6 253.3,315.0 254.0,315.8 254.7,315.8 255.5,315.2 256.2,315.5 257.1,316.0 257.9,315.9 258.8,315.8 259.4,315.6 260.1,315.9 260.8,316.6 261.5,316.1 262.3,317.4 263.0,316.7 263.8,317.9 264.6,317.3 265.3,318.5 266.1,318.5 266.9,318.5 267.6,318.8 268.3,319.2 269.0,319.4 269.6,319.3 270.5,319.6 271.3,320.5 272.1,321.5 272.9,321.6 273.6,321.3 274.4,322.8 275.1,323.1 275.8,323.8 276.5,323.3 277.3,324.5 278.0,324.0 278.7,325.3 279.3,325.1 280.0,325.4 280.6,326.7 281.3,326.0 282.1,327.1 282.9,328.0 283.9,327.8 285.0,328.4 285.6,329.7 286.1,329.4 286.8,330.2 287.4,329.6 288.1,330.5 288.8,330.6 289.5,331.8 290.2,331.4 290.9,333.0 291.7,332.2 292.5,333.7 293.2,333.1 294.0,333.9 294.8,335.2 295.6,334.8 296.4,335.3 297.2,336.5 298.0,336.6 298.7,336.6 299.5,338.4 300.3,337.6 301.0,338.0 301.7,338.8 302.4,339.6 303.1,340.3 303.8,339.8 304.6,340.6 305.3,340.6 306.0,341.7 306.7,342.6 307.4,343.0 308.2,343.7 308.9,343.9 309.6,344.5 310.3,344.8 311.0,344.9 311.7,345.0 312.4,346.1 313.2,346.1 313.9,346.2 314.6,347.1 315.3,348.2 315.9,347.6 316.6,348.7 317.3,348.9 318.1,349.5 318.8,349.5 319.6,351.2 320.4,350.7 321.2,351.7 321.9,351.9 322.7,351.9 323.4,353.1 324.2,353.0 325.0,353.4 325.7,353.9 326.4,354.5 327.2,354.9 327.9,356.2 328.6,356.5 329.3,357.6 330.0,358.0 330.7,358.6 331.3,358.0 332.0,358.7 332.8,359.0 333.6,360.1 334.4,360.7 335.2,361.5 336.0,361.9 336.8,361.8 337.6,362.6 338.3,363.3 339.0,363.1 339.7,363.6 340.4,364.7 341.1,364.7 341.7,366.0 342.4,365.8 342.9,366.0 343.5,366.6 344.5,367.4 345.5,368.1 346.3,369.1 347.1,369.6 347.8,369.9 348.4,370.8 348.9,370.6 349.3,371.3" fill="none" stroke="#14963c" stroke-width="1.8" stroke-linejoin="round"/>
<rect x="213.00" y="375.6" width="1.41" height="20.2" fill="rgb(1,1,1)"/>
<rect x="214.36" y="375.6" width="1.10" height="20.2" fill="rgb(149,149,149)"/>
<rect x="215.41" y="375.6" width="0.66" height="20.2" fill="rgb(104,104,104)"/>
<rect x="216.02" y="375.6" width="1.26" height="20.2" fill="rgb(17,17,17)"/>
<rect x="217.24" y="375.6" width="1.41" height="20.2" fill="rgb(11,11,11)"/>
<rect x="218.60" y="375.6" width="1.39" height="20.2" fill="rgb(115,115,115)"/>
<rect x="219.94" y="375.6" width="1.19" height="20.2" fill="rgb(1,1,1)"/>
<rect x="221.08" y="375.6" width="1.08" height="20.2" fill="rgb(12,12,12)"/>
<rect x="222.11" y="375.6" width="0.71" height="20.2" fill="rgb(33,33,33)"/>
<rect x="222.77" y="375.6" width="1.39" height="20.2" fill="rgb(132,132,132)"/>
<rect x="224.11" y="375.6" width="0.61" height="20.2" fill="rgb(21,21,21)"/>
<rect x="225.40" y="375.6" width="0.83" height="20.2" fill="rgb(143,143,143)"/>
<rect x="226.18" y="375.6" width="1.01" height="20.2" fill="rgb(17,17,17)"/>
<rect x="227.15" y="375.6" width="1.15" height="20.2" fill="rgb(3,3,3)"/>
<rect x="229.05" y="375.6" width="0.93" height="20.2" fill="rgb(18,18,18)"/>
<rect x="229.93" y="375.6" width="1.02" height="20.2" fill="rgb(144,144,144)"/>
<rect x="230.90" y="375.6" width="1.38" height="20.2" fill="rgb(23,23,23)"/>
<rect x="232.23" y="375.6" width="0.91" height="20.2" fill="rgb(35,35,35)"/>
<rect x="233.09" y="375.6" width="1.04" height="20.2" fill="rgb(146,146,146)"/>
<rect x="234.08" y="375.6" width="1.36" height="20.2" fill="rgb(71,71,71)"/>
<rect x="235.39" y="375.6" width="1.45" height="20.2" fill="rgb(27,27,27)"/>
<rect x="236.78" y="375.6" width="1.25" height="20.2" fill="rgb(12,12,12)"/>
<rect x="237.99" y="375.6" width="1.01" height="20.2" fill="rgb(72,72,72)"/>
<rect x="238.95" y="375.6" width="0.96" height="20.2" fill="rgb(1,1,1)"/>
<rect x="239.86" y="375.6" width="1.04" height="20.2" fill="rgb(21,21,21)"/>
<rect x="240.85" y="375.6" width="1.37" height="20.2" fill="rgb(116,116,116)"/>
<rect x="242.17" y="375.6" width="0.58" height="20.2" fill="rgb(161,161,161)"/>
<rect x="242.70" y="375.6" width="1.25" height="20.2" fill="rgb(143,143,143)"/>
<rect x="243.90" y="375.6" width="1.17" height="20.2" fill="rgb(26,26,26)"/>
<rect x="245.03" y="375.6" width="0.66" height="20.2" fill="rgb(29,29,29)"/>
<rect x="245.64" y="375.6" width="0.59" height="20.2" fill="rgb(33,33,33)"/>
<rect x="246.18" y="375.6" width="0.67" height="20.2" fill="rgb(30,30,30)"/>
<rect x="246.80" y="375.6" width="0.98" height="20.2" fill="rgb(22,22,22)"/>
<rect x="247.73" y="375.6" width="1.41" height="20.2" fill="rgb(16,16,16)"/>
<rect x="249.09" y="375.6" width="1.40" height="20.2" fill="rgb(32,32,32)"/>
<rect x="250.44" y="375.6" width="0.87" height="20.2" fill="rgb(6,6,6)"/>
<rect x="251.25" y="375.6" width="0.70" height="20.2" fill="rgb(115,115,115)"/>
<rect x="251.90" y="375.6" width="1.18" height="20.2" fill="rgb(4,4,4)"/>
<rect x="253.03" y="375.6" width="1.42" height="20.2" fill="rgb(7,7,7)"/>
<rect x="254.41" y="375.6" width="1.44" height="20.2" fill="rgb(122,122,122)"/>
<rect x="255.80" y="375.6" width="1.33" height="20.2" fill="rgb(17,17,17)"/>
<rect x="257.08" y="375.6" width="1.23" height="20.2" fill="rgb(139,139,139)"/>
<rect x="258.26" y="375.6" width="0.74" height="20.2" fill="rgb(33,33,33)"/>
<rect x="258.94" y="375.6" width="1.30" height="20.2" fill="rgb(24,24,24)"/>
<rect x="260.19" y="375.6" width="1.31" height="20.2" fill="rgb(86,86,86)"/>
<rect x="261.45" y="375.6" width="0.73" height="20.2" fill="rgb(108,108,108)"/>
<rect x="262.13" y="375.6" width="0.59" height="20.2" fill="rgb(113,113,113)"/>
<rect x="262.68" y="375.6" width="0.97" height="20.2" fill="rgb(14,14,14)"/>
<rect x="264.20" y="375.6" width="1.39" height="20.2" fill="rgb(82,82,82)"/>
<rect x="265.53" y="375.6" width="1.35" height="20.2" fill="rgb(67,67,67)"/>
<rect x="266.84" y="375.6" width="0.58" height="20.2" fill="rgb(17,17,17)"/>
<rect x="267.36" y="375.6" width="0.59" height="20.2" fill="rgb(63,63,63)"/>
<rect x="267.90" y="375.6" width="0.80" height="20.2" fill="rgb(87,87,87)"/>
<rect x="269.72" y="375.6" width="1.31" height="20.2" fill="rgb(34,34,34)"/>
<rect x="270.98" y="375.6" width="0.94" height="20.2" fill="rgb(16,16,16)"/>
<rect x="271.87" y="375.6" width="1.33" height="20.2" fill="rgb(61,61,61)"/>
<rect x="273.14" y="375.6" width="1.18" height="20.2" fill="rgb(73,73,73)"/>
<rect x="274.28" y="375.6" width="0.71" height="20.2" fill="rgb(139,139,139)"/>
<rect x="274.93" y="375.6" width="0.12" height="20.2" fill="rgb(32,32,32)"/>
<rect x="238" y="375.6" width="2.5999999999999943" height="20.2" fill="#fff"/>
<rect x="271.5" y="375.6" width="3.3000000000000114" height="20.2" fill="#fff"/>
<rect x="280.8" y="375.6" width="2.6" height="20.2" fill="rgb(40,40,40)"/>
<rect x="288" y="375.6" width="1.2" height="20.2" fill="rgb(150,150,150)"/>
<rect x="290.8" y="375.6" width="1.4" height="20.2" fill="rgb(50,50,50)"/>
<rect x="293" y="375.6" width="0.6" height="20.2" fill="rgb(170,170,170)"/>
<rect x="301.3" y="375.6" width="0.8" height="20.2" fill="rgb(140,140,140)"/>
<rect x="305" y="375.6" width="1.4" height="20.2" fill="rgb(40,40,40)"/>
<rect x="308.6" y="375.6" width="2" height="20.2" fill="rgb(130,130,130)"/>
<rect x="312" y="375.6" width="2.2" height="20.2" fill="rgb(40,40,40)"/>
<rect x="317" y="375.6" width="0.9" height="20.2" fill="rgb(50,50,50)"/>
<rect x="322" y="375.6" width="0.9" height="20.2" fill="rgb(40,40,40)"/>
<rect x="323.6" y="375.6" width="0.8" height="20.2" fill="rgb(120,120,120)"/>
<rect x="327" y="375.6" width="0.9" height="20.2" fill="rgb(140,140,140)"/>
<rect x="330" y="375.6" width="2" height="20.2" fill="rgb(60,60,60)"/>
<rect x="339" y="375.6" width="0.7" height="20.2" fill="rgb(170,170,170)"/>
<rect x="275.6" y="375.6" width="0.7" height="20.2" fill="rgb(120,120,120)"/>
<rect x="212.70" y="395.9" width="3.72" height="4.8" fill="#e3191e"/>
<rect x="216.12" y="395.9" width="8.51" height="4.8" fill="#f0444a"/>
<rect x="224.34" y="395.9" width="18.10" height="4.8" fill="#f45a62"/>
<rect x="242.13" y="395.9" width="13.99" height="4.8" fill="#f6727a"/>
<rect x="255.82" y="395.9" width="18.10" height="4.8" fill="#f78a90"/>
<rect x="273.62" y="395.9" width="22.20" height="4.8" fill="#f9bde0"/>
<rect x="295.52" y="395.9" width="12.62" height="4.8" fill="#d4d4fb"/>
<rect x="307.85" y="395.9" width="9.88" height="4.8" fill="#bcbcf9"/>
<rect x="317.43" y="395.9" width="8.51" height="4.8" fill="#8282f2"/>
<rect x="325.64" y="395.9" width="13.99" height="4.8" fill="#5d5de9"/>
<rect x="339.33" y="395.9" width="10.57" height="4.8" fill="#2a12d0"/>
<text x="211.5" y="411.2" font-size="10.35" fill="#e8202a" stroke="#e8202a" stroke-width="0.22"><tspan font-style="italic">NGF</tspan>-high</text>
<text x="348.8" y="411.2" font-size="10.35" text-anchor="end" fill="#1a1aff" stroke="#1a1aff" stroke-width="0.22"><tspan font-style="italic">NGF</tspan>-low</text>
<text x="210.0" y="375.0" font-size="10.35" text-anchor="end" stroke="#000" stroke-width="0.22">0.0</text>
<text x="210.0" y="355.0" font-size="10.35" text-anchor="end" stroke="#000" stroke-width="0.22">0.2</text>
<text x="210.0" y="335.0" font-size="10.35" text-anchor="end" stroke="#000" stroke-width="0.22">0.4</text>
<text x="210.0" y="315.0" font-size="10.35" text-anchor="end" stroke="#000" stroke-width="0.22">0.6</text>
<text x="298.3" y="317.3" font-size="10.35" stroke="#000" stroke-width="0.22">NES = 1.97</text>
<text x="298.3" y="329.8" font-size="10.35" stroke="#000" stroke-width="0.22"><tspan font-style="italic">P</tspan> = 0.001</text>
<path d="M381.5,310.8V370.4" stroke="#000" stroke-width="1"/>
<path d="M377.5,370.4H381.5M379.1,358.8H381.5M377.5,347.1H381.5M379.1,335.4H381.5M377.5,323.8H381.5" stroke="#000" stroke-width="0.9"/>
<path d="M381.5,370.4H519.3" stroke="#2a1f1f" stroke-width="1.1"/>
<polyline points="381.5,370.1 382.2,365.0 383.0,357.9 383.6,352.0 384.4,346.1 385.0,342.6 385.8,339.7 386.6,337.6 387.3,334.4 388.2,330.9 389.1,328.4 390.0,325.0 390.7,323.5 391.4,321.5 392.1,320.2 393.0,318.5 393.6,318.3 394.2,317.9 394.9,316.9 395.6,316.6 396.4,316.1 397.2,315.0 398.0,315.3 398.6,314.8 399.3,314.2 399.9,313.6 400.6,314.2 401.3,313.6 402.1,313.6 402.8,313.6 403.7,313.3 404.6,313.4 405.2,312.9 405.9,313.3 406.5,312.9 407.2,313.5 407.9,313.5 408.7,312.8 409.4,312.9 410.2,313.1 411.0,313.9 411.8,313.5 412.6,313.8 413.4,313.6 414.2,313.9 415.0,313.9 415.7,313.9 416.3,314.3 417.0,314.3 417.7,314.8 418.5,314.6 419.2,315.0 419.9,315.0 420.7,315.2 421.4,315.0 422.2,314.6 422.9,315.4 423.6,315.6 424.4,315.7 425.1,315.5 425.8,315.7 426.4,315.4 427.1,316.1 427.7,316.0 428.5,315.9 429.3,315.8 430.1,316.8 430.9,317.1 431.6,316.4 432.3,317.3 433.0,317.1 433.7,317.1 434.3,317.4 435.0,318.1 435.7,318.4 436.3,317.8 437.0,318.6 437.8,318.3 438.5,319.2 439.2,319.0 439.9,319.7 440.5,320.0 441.2,319.7 441.9,320.4 442.6,320.0 443.4,320.2 444.1,321.2 445.0,321.1 445.6,321.7 446.2,322.4 446.9,323.1 447.6,323.3 448.2,323.7 448.9,325.2 449.6,325.3 450.3,326.6 451.1,327.2 451.8,327.4 452.6,328.2 453.3,328.9 454.1,329.8 454.9,330.4 455.7,331.1 456.5,331.8 457.2,332.7 457.8,332.8 458.5,333.3 459.2,334.1 459.9,334.2 460.6,334.9 461.4,336.1 462.1,336.3 462.8,336.9 463.6,336.9 464.3,337.9 465.1,338.7 465.8,338.7 466.6,339.9 467.3,340.5 468.1,340.5 468.8,341.7 469.5,342.1 470.3,342.9 471.0,343.2 471.7,344.1 472.4,344.7 473.2,344.6 473.9,345.2 474.6,346.4 475.3,347.3 476.0,347.1 476.8,347.9 477.5,348.6 478.2,349.0 478.9,349.6 479.6,350.1 480.4,350.7 481.1,351.5 481.8,351.8 482.5,352.5 483.2,353.4 484.0,353.2 484.7,354.3 485.4,355.0 486.1,355.2 486.9,355.6 487.6,356.8 488.4,356.8 489.1,357.3 489.9,358.1 490.7,358.9 491.4,358.9 492.2,359.6 493.0,360.2 493.7,361.2 494.5,361.4 495.2,362.3 495.9,362.1 496.6,362.7 497.3,363.5 497.9,364.2 498.6,364.2 499.2,364.4 499.8,364.6 500.7,365.6 501.6,365.8 502.5,366.8 503.2,367.3 504.0,367.0 504.7,367.4 505.4,368.3 506.0,368.4 506.7,368.8 507.3,368.6 507.9,368.6 508.5,369.0 509.5,369.9 510.3,369.7 511.1,370.0 511.8,370.3 512.5,370.4 513.3,370.5 514.0,371.1 514.8,370.3 515.7,370.1 516.6,370.9 517.4,370.6 518.2,370.5 518.8,369.8 519.3,369.8" fill="none" stroke="#14963c" stroke-width="1.8" stroke-linejoin="round"/>
<rect x="381.80" y="375.6" width="1.06" height="20.2" fill="rgb(17,17,17)"/>
<rect x="382.81" y="375.6" width="0.98" height="20.2" fill="rgb(128,128,128)"/>
<rect x="383.74" y="375.6" width="1.37" height="20.2" fill="rgb(32,32,32)"/>
<rect x="385.06" y="375.6" width="0.84" height="20.2" fill="rgb(121,121,121)"/>
<rect x="385.85" y="375.6" width="0.95" height="20.2" fill="rgb(141,141,141)"/>
<rect x="386.75" y="375.6" width="0.61" height="20.2" fill="rgb(33,33,33)"/>
<rect x="387.32" y="375.6" width="1.00" height="20.2" fill="rgb(27,27,27)"/>
<rect x="388.26" y="375.6" width="1.28" height="20.2" fill="rgb(20,20,20)"/>
<rect x="389.50" y="375.6" width="1.05" height="20.2" fill="rgb(75,75,75)"/>
<rect x="390.50" y="375.6" width="1.33" height="20.2" fill="rgb(18,18,18)"/>
<rect x="393.17" y="375.6" width="0.61" height="20.2" fill="rgb(20,20,20)"/>
<rect x="393.73" y="375.6" width="1.24" height="20.2" fill="rgb(20,20,20)"/>
<rect x="394.92" y="375.6" width="0.56" height="20.2" fill="rgb(19,19,19)"/>
<rect x="395.43" y="375.6" width="1.05" height="20.2" fill="rgb(7,7,7)"/>
<rect x="396.43" y="375.6" width="1.34" height="20.2" fill="rgb(35,35,35)"/>
<rect x="397.72" y="375.6" width="1.32" height="20.2" fill="rgb(5,5,5)"/>
<rect x="398.99" y="375.6" width="0.66" height="20.2" fill="rgb(3,3,3)"/>
<rect x="399.59" y="375.6" width="0.92" height="20.2" fill="rgb(12,12,12)"/>
<rect x="400.46" y="375.6" width="1.16" height="20.2" fill="rgb(30,30,30)"/>
<rect x="401.57" y="375.6" width="1.26" height="20.2" fill="rgb(29,29,29)"/>
<rect x="402.78" y="375.6" width="1.26" height="20.2" fill="rgb(4,4,4)"/>
<rect x="403.99" y="375.6" width="0.56" height="20.2" fill="rgb(23,23,23)"/>
<rect x="404.50" y="375.6" width="0.65" height="20.2" fill="rgb(61,61,61)"/>
<rect x="405.10" y="375.6" width="1.39" height="20.2" fill="rgb(20,20,20)"/>
<rect x="406.44" y="375.6" width="1.34" height="20.2" fill="rgb(170,170,170)"/>
<rect x="407.73" y="375.6" width="0.70" height="20.2" fill="rgb(30,30,30)"/>
<rect x="408.37" y="375.6" width="0.58" height="20.2" fill="rgb(18,18,18)"/>
<rect x="408.90" y="375.6" width="0.97" height="20.2" fill="rgb(32,32,32)"/>
<rect x="409.82" y="375.6" width="0.92" height="20.2" fill="rgb(30,30,30)"/>
<rect x="410.68" y="375.6" width="0.90" height="20.2" fill="rgb(100,100,100)"/>
<rect x="411.53" y="375.6" width="1.27" height="20.2" fill="rgb(6,6,6)"/>
<rect x="412.76" y="375.6" width="1.41" height="20.2" fill="rgb(100,100,100)"/>
<rect x="414.12" y="375.6" width="1.11" height="20.2" fill="rgb(11,11,11)"/>
<rect x="416.36" y="375.6" width="1.30" height="20.2" fill="rgb(21,21,21)"/>
<rect x="417.61" y="375.6" width="1.38" height="20.2" fill="rgb(156,156,156)"/>
<rect x="418.94" y="375.6" width="1.33" height="20.2" fill="rgb(2,2,2)"/>
<rect x="420.22" y="375.6" width="1.32" height="20.2" fill="rgb(0,0,0)"/>
<rect x="421.49" y="375.6" width="0.76" height="20.2" fill="rgb(17,17,17)"/>
<rect x="422.19" y="375.6" width="1.31" height="20.2" fill="rgb(7,7,7)"/>
<rect x="423.45" y="375.6" width="0.73" height="20.2" fill="rgb(4,4,4)"/>
<rect x="424.13" y="375.6" width="0.61" height="20.2" fill="rgb(61,61,61)"/>
<rect x="425.71" y="375.6" width="1.16" height="20.2" fill="rgb(9,9,9)"/>
<rect x="426.82" y="375.6" width="0.92" height="20.2" fill="rgb(164,164,164)"/>
<rect x="427.69" y="375.6" width="1.32" height="20.2" fill="rgb(1,1,1)"/>
<rect x="428.96" y="375.6" width="1.08" height="20.2" fill="rgb(35,35,35)"/>
<rect x="429.99" y="375.6" width="0.76" height="20.2" fill="rgb(23,23,23)"/>
<rect x="430.69" y="375.6" width="0.63" height="20.2" fill="rgb(123,123,123)"/>
<rect x="432.55" y="375.6" width="1.23" height="20.2" fill="rgb(62,62,62)"/>
<rect x="433.73" y="375.6" width="1.27" height="20.2" fill="rgb(18,18,18)"/>
<rect x="434.96" y="375.6" width="1.11" height="20.2" fill="rgb(8,8,8)"/>
<rect x="436.02" y="375.6" width="1.20" height="20.2" fill="rgb(24,24,24)"/>
<rect x="437.16" y="375.6" width="1.00" height="20.2" fill="rgb(12,12,12)"/>
<rect x="438.11" y="375.6" width="1.33" height="20.2" fill="rgb(8,8,8)"/>
<rect x="439.39" y="375.6" width="0.78" height="20.2" fill="rgb(33,33,33)"/>
<rect x="440.12" y="375.6" width="0.67" height="20.2" fill="rgb(129,129,129)"/>
<rect x="440.74" y="375.6" width="0.97" height="20.2" fill="rgb(15,15,15)"/>
<rect x="441.66" y="375.6" width="0.56" height="20.2" fill="rgb(9,9,9)"/>
<rect x="442.16" y="375.6" width="0.85" height="20.2" fill="rgb(16,16,16)"/>
<rect x="442.97" y="375.6" width="0.76" height="20.2" fill="rgb(164,164,164)"/>
<rect x="443.68" y="375.6" width="0.56" height="20.2" fill="rgb(24,24,24)"/>
<rect x="445.20" y="375.6" width="0.79" height="20.2" fill="rgb(96,96,96)"/>
<rect x="446.59" y="375.6" width="0.86" height="20.2" fill="rgb(12,12,12)"/>
<rect x="448.48" y="375.6" width="0.85" height="20.2" fill="rgb(65,65,65)"/>
<rect x="449.28" y="375.6" width="1.32" height="20.2" fill="rgb(76,76,76)"/>
<rect x="450.55" y="375.6" width="1.01" height="20.2" fill="rgb(109,109,109)"/>
<rect x="451.51" y="375.6" width="1.10" height="20.2" fill="rgb(168,168,168)"/>
<rect x="452.57" y="375.6" width="1.11" height="20.2" fill="rgb(12,12,12)"/>
<rect x="453.63" y="375.6" width="1.34" height="20.2" fill="rgb(169,169,169)"/>
<rect x="454.91" y="375.6" width="1.28" height="20.2" fill="rgb(24,24,24)"/>
<rect x="456.14" y="375.6" width="1.37" height="20.2" fill="rgb(90,90,90)"/>
<rect x="457.46" y="375.6" width="1.08" height="20.2" fill="rgb(108,108,108)"/>
<rect x="458.49" y="375.6" width="1.27" height="20.2" fill="rgb(25,25,25)"/>
<rect x="459.71" y="375.6" width="1.42" height="20.2" fill="rgb(28,28,28)"/>
<rect x="461.08" y="375.6" width="0.69" height="20.2" fill="rgb(2,2,2)"/>
<rect x="461.72" y="375.6" width="0.64" height="20.2" fill="rgb(21,21,21)"/>
<rect x="462.31" y="375.6" width="0.98" height="20.2" fill="rgb(27,27,27)"/>
<rect x="463.24" y="375.6" width="0.67" height="20.2" fill="rgb(8,8,8)"/>
<rect x="463.86" y="375.6" width="1.40" height="20.2" fill="rgb(9,9,9)"/>
<rect x="465.21" y="375.6" width="1.38" height="20.2" fill="rgb(5,5,5)"/>
<rect x="466.54" y="375.6" width="1.27" height="20.2" fill="rgb(6,6,6)"/>
<rect x="467.75" y="375.6" width="1.36" height="20.2" fill="rgb(24,24,24)"/>
<rect x="469.06" y="375.6" width="0.55" height="20.2" fill="rgb(28,28,28)"/>
<rect x="469.57" y="375.6" width="0.99" height="20.2" fill="rgb(19,19,19)"/>
<rect x="471.17" y="375.6" width="0.94" height="20.2" fill="rgb(15,15,15)"/>
<rect x="472.06" y="375.6" width="0.92" height="20.2" fill="rgb(10,10,10)"/>
<rect x="472.94" y="375.6" width="1.32" height="20.2" fill="rgb(0,0,0)"/>
<rect x="474.21" y="375.6" width="1.39" height="20.2" fill="rgb(162,162,162)"/>
<rect x="475.54" y="375.6" width="1.21" height="20.2" fill="rgb(2,2,2)"/>
<rect x="476.70" y="375.6" width="1.29" height="20.2" fill="rgb(27,27,27)"/>
<rect x="477.94" y="375.6" width="1.33" height="20.2" fill="rgb(104,104,104)"/>
<rect x="479.23" y="375.6" width="1.17" height="20.2" fill="rgb(27,27,27)"/>
<rect x="480.35" y="375.6" width="0.83" height="20.2" fill="rgb(17,17,17)"/>
<rect x="483.37" y="375.6" width="1.08" height="20.2" fill="rgb(93,93,93)"/>
<rect x="484.40" y="375.6" width="0.87" height="20.2" fill="rgb(7,7,7)"/>
<rect x="485.22" y="375.6" width="0.71" height="20.2" fill="rgb(13,13,13)"/>
<rect x="485.88" y="375.6" width="0.58" height="20.2" fill="rgb(67,67,67)"/>
<rect x="486.41" y="375.6" width="1.29" height="20.2" fill="rgb(20,20,20)"/>
<rect x="487.65" y="375.6" width="1.36" height="20.2" fill="rgb(32,32,32)"/>
<rect x="488.97" y="375.6" width="1.15" height="20.2" fill="rgb(104,104,104)"/>
<rect x="490.06" y="375.6" width="0.77" height="20.2" fill="rgb(0,0,0)"/>
<rect x="490.78" y="375.6" width="1.03" height="20.2" fill="rgb(5,5,5)"/>
<rect x="492.50" y="375.6" width="0.62" height="20.2" fill="rgb(21,21,21)"/>
<rect x="493.07" y="375.6" width="1.20" height="20.2" fill="rgb(9,9,9)"/>
<rect x="494.22" y="375.6" width="1.19" height="20.2" fill="rgb(11,11,11)"/>
<rect x="495.36" y="375.6" width="0.97" height="20.2" fill="rgb(104,104,104)"/>
<rect x="496.28" y="375.6" width="0.82" height="20.2" fill="rgb(20,20,20)"/>
<rect x="497.05" y="375.6" width="1.15" height="20.2" fill="rgb(10,10,10)"/>
<rect x="498.15" y="375.6" width="1.08" height="20.2" fill="rgb(34,34,34)"/>
<rect x="499.18" y="375.6" width="1.21" height="20.2" fill="rgb(83,83,83)"/>
<rect x="500.34" y="375.6" width="1.33" height="20.2" fill="rgb(144,144,144)"/>
<rect x="501.62" y="375.6" width="0.66" height="20.2" fill="rgb(18,18,18)"/>
<rect x="502.24" y="375.6" width="1.08" height="20.2" fill="rgb(12,12,12)"/>
<rect x="503.27" y="375.6" width="1.16" height="20.2" fill="rgb(7,7,7)"/>
<rect x="504.38" y="375.6" width="0.56" height="20.2" fill="rgb(84,84,84)"/>
<rect x="504.89" y="375.6" width="0.69" height="20.2" fill="rgb(17,17,17)"/>
<rect x="505.53" y="375.6" width="1.42" height="20.2" fill="rgb(22,22,22)"/>
<rect x="506.90" y="375.6" width="0.70" height="20.2" fill="rgb(5,5,5)"/>
<rect x="507.56" y="375.6" width="0.65" height="20.2" fill="rgb(1,1,1)"/>
<rect x="508.16" y="375.6" width="1.37" height="20.2" fill="rgb(130,130,130)"/>
<rect x="509.48" y="375.6" width="1.15" height="20.2" fill="rgb(7,7,7)"/>
<rect x="510.58" y="375.6" width="1.13" height="20.2" fill="rgb(151,151,151)"/>
<rect x="511.66" y="375.6" width="0.57" height="20.2" fill="rgb(139,139,139)"/>
<rect x="512.18" y="375.6" width="1.08" height="20.2" fill="rgb(27,27,27)"/>
<rect x="513.21" y="375.6" width="0.89" height="20.2" fill="rgb(106,106,106)"/>
<rect x="514.05" y="375.6" width="0.57" height="20.2" fill="rgb(5,5,5)"/>
<rect x="514.57" y="375.6" width="1.36" height="20.2" fill="rgb(148,148,148)"/>
<rect x="515.88" y="375.6" width="0.69" height="20.2" fill="rgb(141,141,141)"/>
<rect x="516.52" y="375.6" width="0.84" height="20.2" fill="rgb(154,154,154)"/>
<rect x="517.31" y="375.6" width="0.74" height="20.2" fill="rgb(78,78,78)"/>
<rect x="518.00" y="375.6" width="0.74" height="20.2" fill="rgb(7,7,7)"/>
<rect x="518.68" y="375.6" width="0.37" height="20.2" fill="rgb(161,161,161)"/>
<rect x="381.50" y="395.9" width="3.74" height="4.8" fill="#e3191e"/>
<rect x="384.94" y="395.9" width="8.57" height="4.8" fill="#f0444a"/>
<rect x="393.21" y="395.9" width="18.21" height="4.8" fill="#f45a62"/>
<rect x="411.13" y="395.9" width="14.08" height="4.8" fill="#f6727a"/>
<rect x="424.91" y="395.9" width="18.21" height="4.8" fill="#f78a90"/>
<rect x="442.82" y="395.9" width="22.35" height="4.8" fill="#f9bde0"/>
<rect x="464.87" y="395.9" width="12.70" height="4.8" fill="#d4d4fb"/>
<rect x="477.27" y="395.9" width="9.95" height="4.8" fill="#bcbcf9"/>
<rect x="486.92" y="395.9" width="8.57" height="4.8" fill="#8282f2"/>
<rect x="495.18" y="395.9" width="14.08" height="4.8" fill="#5d5de9"/>
<rect x="508.96" y="395.9" width="10.63" height="4.8" fill="#2a12d0"/>
<text x="380.3" y="411.2" font-size="10.35" fill="#e8202a" stroke="#e8202a" stroke-width="0.22"><tspan font-style="italic">NGF</tspan>-high</text>
<text x="518.5" y="411.2" font-size="10.35" text-anchor="end" fill="#1a1aff" stroke="#1a1aff" stroke-width="0.22"><tspan font-style="italic">NGF</tspan>-low</text>
<text x="378.2" y="373.9" font-size="10.35" text-anchor="end" stroke="#000" stroke-width="0.22">0.0</text>
<text x="378.2" y="350.6" font-size="10.35" text-anchor="end" stroke="#000" stroke-width="0.22">0.2</text>
<text x="378.2" y="327.3" font-size="10.35" text-anchor="end" stroke="#000" stroke-width="0.22">0.4</text>
<text x="465.3" y="317.3" font-size="10.35" stroke="#000" stroke-width="0.22">NES = 2.06</text>
<text x="465.3" y="329.8" font-size="10.35" stroke="#000" stroke-width="0.22"><tspan font-style="italic">P</tspan> &lt; 0.001</text>
<text x="1.2" y="456.4" font-size="14.6" font-weight="bold" stroke="#000" stroke-width="0.3">D</text>
<text x="0" y="0" font-size="11.5" text-anchor="middle" stroke="#000" stroke-width="0.22" transform="translate(10.0,546) rotate(-90)">Sympathetic nerves</text>
<path d="M10,539.6C22,540 32,542.8 41,545.2L41,548.2C32,547.8 22,546.4 10,546.2Z" fill="url(#nerveg)"/>
<g fill="none" stroke="#f6ab38" stroke-width="2.3" stroke-linecap="round"><path d="M37,546.2C46,544.5 51,538 54.5,528S60,512.5 69.4,510.9"/><path d="M38,546.6C50,545.4 61,542 69.5,537.6S76.5,532.5 78.9,529.4"/><path d="M60,541.8C69,539.3 80,538.2 90,541.9"/><path d="M38,547C48,548.2 57,552 64,556S80,558.4 92.2,559.7"/><path d="M38,547.4C45,551 49,560 53.5,570S65,581.8 77.2,583.4"/></g>
<g fill="#f6ab38"><circle cx="69.4" cy="510.9" r="2.4"/><circle cx="78.9" cy="529.4" r="2.4"/><circle cx="90" cy="541.9" r="2.4"/><circle cx="92.2" cy="559.7" r="2.4"/><circle cx="77.2" cy="583.4" r="2.4"/></g>
<rect x="-2.7" y="-5" width="5.4" height="10" rx="1.6" fill="url(#oliveg2)" transform="translate(74.4,563.3) rotate(-33)"/>
<path d="M86.3,562.8V574.2M86.3,568.4H105.3" stroke="#1b2585" stroke-width="1.8" fill="none"/>
<text x="108.0" y="571.9" font-size="11.7" fill="#1b2585" stroke="#1b2585" stroke-width="0.22">TRK inhibitor</text>
<g stroke="#9a9a9a" stroke-width="1" stroke-dasharray="4.2 3" fill="none"><path d="M208.5,537.5L286.5,449.5"/><path d="M210.5,557.5L287,576.5"/><path d="M147,668.6L287,589.2"/></g>
<path d="M80.1,521.6C96,484 170,462 196.5,519.5L198.01,522.66" fill="none" stroke="#ec6418" stroke-width="1.55"/><path d="M201.50,530.30L192.95,522.66L198.10,522.85L201.32,518.84Z" fill="#ec6418"/>
<text x="122.3" y="476.9" font-size="11.5" text-anchor="middle" fill="#ec6418" stroke="#ec6418" stroke-width="0.22">NE</text>
<path d="M177.4,574.6C183,568 188,560 193,551C197,543 204,540 212,537C218,534.5 223,531 227.4,527.9C229,527.2 229.4,528.6 228.2,530C222,536 215,541 211.5,548C208,556 203,561.5 194,566.5C188,570 182,573.5 178.6,575.6C177.6,576.2 176.8,575.3 177.4,574.6Z" fill="#dbeed4" stroke="#8d9e8d" stroke-width="0.9"/>
<ellipse cx="200.4" cy="553.6" rx="9.0" ry="6.4" transform="rotate(-40 200.4 553.6)" fill="#d5d5d5" stroke="#7c7c7c" stroke-width="0.9"/>
<rect x="-3.1" y="-5.6" width="6.2" height="11.2" rx="1.6" fill="url(#salmg)" transform="translate(204.3,538.0) rotate(-16)"/>
<text x="196.4" y="535.5" font-size="11.6" text-anchor="end" fill="#f27b7b" stroke="#f27b7b" stroke-width="0.22">ADRB2</text>
<path d="M203.3,564.3C204,600 172,616 142,615C112,614 90,598 81.5,578L80.41,575.48" fill="none" stroke="#1f9a45" stroke-width="1.55"/><path d="M77.00,567.80L85.47,575.53L80.33,575.28L77.06,579.26Z" fill="#1f9a45"/>
<text x="139.1" y="610.6" font-size="11.3" text-anchor="middle" fill="#1f9a45" stroke="#1f9a45" stroke-width="0.22">NGF</text>
<path d="M205.4,564.3C204.5,588 197,628 182,655L180.92,656.80" fill="none" stroke="#1f9a45" stroke-width="1.55"/><path d="M176.60,664.00L178.06,652.63L180.81,656.98L185.95,657.36Z" fill="#1f9a45"/>
<text x="178.2" y="633.2" font-size="11.3" text-anchor="middle" fill="#1f9a45" stroke="#1f9a45" stroke-width="0.22">NGF</text>
<path d="M78.7,586C80,610 86,636 101,656L102.22,657.69" fill="none" stroke="#ec6418" stroke-width="1.55"/><path d="M107.00,664.60L97.24,658.58L102.34,657.86L104.81,653.35Z" fill="#ec6418"/>
<text x="76.0" y="633.2" font-size="11.3" text-anchor="middle" fill="#ec6418" stroke="#ec6418" stroke-width="0.22">NE</text>
<g stroke="#98a8b4" stroke-width="0.85">
<path d="M135.79,698.82Q132.11,699.63 130.63,696.17L122.07,676.10Q120.22,671.75 124.39,669.52L124.80,669.30Q128.97,667.07 133.69,667.34L134.16,667.36Q138.88,667.63 139.02,672.36L139.71,694.16Q139.83,697.93 136.15,698.74Z" fill="url(#cellg)"/>
<ellipse cx="133.10" cy="678.97" rx="5.60" ry="2.91" transform="rotate(-100.4 133.10 678.97)" fill="#0c3690" stroke="none"/>
<path d="M144.40,738.40Q147.75,737.75 149.00,740.93L157.29,762.04Q158.95,766.25 154.92,768.32L154.52,768.52Q150.49,770.58 145.99,770.19L145.53,770.15Q141.03,769.75 140.98,765.22L140.74,742.53Q140.71,739.12 144.06,738.46Z" fill="url(#cellg)"/>
<ellipse cx="147.00" cy="758.57" rx="5.60" ry="3.14" transform="rotate(80.6 147.00 758.57)" fill="#0c3690" stroke="none"/>
<path d="M123.40,708.95Q121.28,712.38 117.48,711.01L98.73,704.26Q94.03,702.57 95.41,697.76L95.59,697.15Q96.98,692.34 100.66,688.96L101.14,688.53Q104.82,685.14 108.43,688.60L122.82,702.38Q125.74,705.17 123.62,708.60Z" fill="url(#cellg)"/>
<ellipse cx="108.86" cy="702.12" rx="9.52" ry="4.93" transform="rotate(-151.5 108.86 702.12)" fill="#0c3690" stroke="none"/>
<path d="M156.57,729.99Q158.83,726.65 162.58,728.15L180.81,735.46Q185.45,737.32 183.86,742.07L183.61,742.81Q182.03,747.55 178.20,750.77L177.60,751.27Q173.77,754.49 170.34,750.85L156.84,736.58Q154.07,733.65 156.34,730.32Z" fill="url(#cellg)"/>
<ellipse cx="166.48" cy="735.47" rx="8.96" ry="5.38" transform="rotate(31.9 166.48 735.47)" fill="#0c3690" stroke="none"/>
<path d="M138.18,740.19Q141.62,740.60 141.80,744.06L142.87,764.48Q143.09,768.65 138.97,769.37L138.55,769.44Q134.44,770.16 130.60,768.49L130.22,768.33Q126.38,766.66 127.58,762.65L133.42,743.06Q134.41,739.74 137.84,740.15Z" fill="url(#cellg)"/>
<ellipse cx="136.51" cy="758.60" rx="5.60" ry="3.14" transform="rotate(95.8 136.51 758.60)" fill="#0c3690" stroke="none"/>
<path d="M151.00,735.42Q154.68,733.09 157.80,736.13L171.83,749.76Q175.41,753.25 172.06,756.96L170.93,758.21Q167.58,761.92 162.79,763.38L161.18,763.87Q156.39,765.33 154.76,760.60L148.38,742.11Q146.96,737.99 150.63,735.66Z" fill="url(#cellg)"/>
<ellipse cx="157.29" cy="747.13" rx="9.52" ry="5.60" transform="rotate(58.9 157.29 747.13)" fill="#0c3690" stroke="none"/>
<path d="M126.19,733.62Q128.92,736.40 126.74,739.62L116.07,755.38Q113.41,759.31 109.28,756.98L108.87,756.74Q104.74,754.41 102.48,750.24L102.26,749.82Q100.00,745.65 103.98,743.06L119.93,732.69Q123.19,730.56 125.92,733.34Z" fill="url(#cellg)"/>
<ellipse cx="114.56" cy="744.70" rx="7.28" ry="3.92" transform="rotate(135.6 114.56 744.70)" fill="#0c3690" stroke="none"/>
<path d="M132.29,737.05Q135.61,738.62 134.71,742.18L129.38,763.24Q128.21,767.89 123.47,767.09L123.00,767.01Q118.27,766.22 114.66,763.06L114.30,762.75Q110.69,759.59 113.54,755.73L126.46,738.27Q128.64,735.32 131.96,736.90Z" fill="url(#cellg)"/>
<ellipse cx="123.81" cy="755.10" rx="6.72" ry="3.36" transform="rotate(115.0 123.81 755.10)" fill="#0c3690" stroke="none"/>
<path d="M128.51,702.41Q124.48,705.20 120.79,701.96L107.76,690.49Q104.01,687.19 107.22,683.35L108.61,681.68Q111.82,677.84 116.54,676.19L118.60,675.48Q123.32,673.83 125.09,678.51L131.22,694.74Q132.96,699.33 128.92,702.13Z" fill="url(#cellg)"/>
<ellipse cx="121.51" cy="690.50" rx="8.96" ry="5.60" transform="rotate(-123.4 121.51 690.50)" fill="#0c3690" stroke="none"/>
<path d="M160.82,724.28Q161.68,720.87 165.19,721.13L187.31,722.78Q191.72,723.11 191.87,727.53L191.88,727.97Q192.03,732.39 189.79,736.20L189.57,736.58Q187.33,740.40 183.30,738.58L163.07,729.47Q159.87,728.02 160.73,724.62Z" fill="url(#cellg)"/>
<ellipse cx="181.51" cy="729.68" rx="5.15" ry="4.48" transform="rotate(14.2 181.51 729.68)" fill="#0c3690" stroke="none"/>
<path d="M154.86,703.98Q151.95,701.19 154.10,697.78L163.63,682.72Q166.14,678.74 170.31,680.92L170.73,681.13Q174.89,683.31 177.26,687.37L177.49,687.78Q179.85,691.85 176.00,694.54L161.38,704.74Q158.07,707.04 155.15,704.26Z" fill="url(#cellg)"/>
<ellipse cx="165.42" cy="692.77" rx="7.28" ry="3.92" transform="rotate(-46.8 165.42 692.77)" fill="#0c3690" stroke="none"/>
<path d="M142.33,698.70Q138.96,698.37 138.72,695.00L137.15,673.67Q136.84,669.48 140.97,668.67L141.38,668.59Q145.51,667.79 149.40,669.37L149.79,669.53Q153.68,671.12 152.57,675.17L146.93,695.80Q146.04,699.06 142.67,698.73Z" fill="url(#cellg)"/>
<ellipse cx="143.52" cy="680.12" rx="5.82" ry="2.91" transform="rotate(-85.6 143.52 680.12)" fill="#0c3690" stroke="none"/>
<path d="M120.46,714.81Q119.75,717.87 116.62,717.65L89.65,715.79Q85.32,715.49 85.10,711.15L85.08,710.72Q84.87,706.38 86.97,702.58L87.18,702.20Q89.29,698.40 93.31,700.04L118.34,710.25Q121.24,711.44 120.53,714.50Z" fill="url(#cellg)"/>
<ellipse cx="97.33" cy="708.94" rx="5.60" ry="4.48" transform="rotate(-166.5 97.33 708.94)" fill="#0c3690" stroke="none"/>
<path d="M159.20,710.25Q157.40,706.43 160.77,703.86L176.20,692.11Q180.17,689.08 183.44,692.86L183.98,693.49Q187.25,697.28 188.09,702.21L188.23,703.02Q189.07,707.95 184.20,709.09L165.31,713.50Q161.19,714.47 159.38,710.64Z" fill="url(#cellg)"/>
<ellipse cx="174.65" cy="703.09" rx="6.72" ry="3.81" transform="rotate(-25.4 174.65 703.09)" fill="#0c3690" stroke="none"/>
<path d="M159.98,717.60Q159.70,713.96 163.22,712.98L183.44,707.35Q187.97,706.09 189.61,710.49L189.78,710.93Q191.42,715.34 190.48,719.94L190.38,720.40Q189.44,725.01 184.77,724.46L163.93,722.03Q160.30,721.61 160.01,717.96Z" fill="url(#cellg)"/>
<ellipse cx="179.24" cy="717.07" rx="6.27" ry="3.36" transform="rotate(-3.3 179.24 717.07)" fill="#0c3690" stroke="none"/>
<path d="M148.59,700.49Q145.16,698.97 145.99,695.31L151.21,672.54Q152.31,667.73 157.20,668.45L157.69,668.52Q162.58,669.24 166.41,672.37L166.79,672.68Q170.62,675.80 167.81,679.86L154.51,699.07Q152.37,702.15 148.94,700.64Z" fill="url(#cellg)"/>
<ellipse cx="157.25" cy="681.33" rx="6.72" ry="3.36" transform="rotate(-66.2 157.25 681.33)" fill="#0c3690" stroke="none"/>
<path d="M121.18,720.91Q121.43,724.36 118.09,725.24L93.48,731.77Q88.79,733.01 87.15,728.43L86.99,727.98Q85.35,723.40 86.29,718.63L86.39,718.15Q87.33,713.38 92.16,713.92L117.46,716.74Q120.89,717.12 121.15,720.56Z" fill="url(#cellg)"/>
<ellipse cx="99.56" cy="721.59" rx="7.28" ry="3.36" transform="rotate(176.8 99.56 721.59)" fill="#0c3690" stroke="none"/>
<path d="M122.67,727.43Q124.21,730.90 121.12,733.10L102.85,746.11Q98.77,749.01 95.60,745.15L95.22,744.69Q92.04,740.82 91.31,735.88L91.22,735.29Q90.48,730.34 95.36,729.27L117.27,724.43Q120.98,723.61 122.52,727.08Z" fill="url(#cellg)"/>
<ellipse cx="104.26" cy="735.51" rx="6.94" ry="3.47" transform="rotate(155.9 104.26 735.51)" fill="#0c3690" stroke="none"/>
</g>
<g stroke="#9a9a9a" stroke-width="1" stroke-dasharray="4.2 3" fill="none"><path d="M151.5,685.8L287,775"/></g>
<rect x="-2.8" y="-5.6" width="5.6" height="11.2" rx="1.6" fill="url(#salmg)" transform="translate(111.5,672.5) rotate(-32)"/>
<rect x="-2.8" y="-5.6" width="5.6" height="11.2" rx="1.6" fill="url(#oliveg2)" transform="translate(169.0,671.6) rotate(36)"/>
<path d="M181.9,665.8V676.2M181.9,671H198.4" stroke="#1b2585" stroke-width="1.8" fill="none"/>
<text x="202.4" y="675.3" font-size="11.7" fill="#1b2585" stroke="#1b2585" stroke-width="0.22">TRK inhibitor</text>
<rect x="286.9" y="446.7" width="231.0" height="130.9" rx="10" fill="#fff" stroke="#a2a2a2" stroke-width="1.15"/>
<rect x="286.9" y="587.6" width="230.6" height="187.8" rx="10" fill="#fff" stroke="#a2a2a2" stroke-width="1.15"/>
<text x="0" y="0" font-size="12.1" text-anchor="middle" stroke="#000" stroke-width="0.22" transform="translate(283.3,512.2) rotate(-90)">CAFs</text>
<text x="0" y="0" font-size="12.1" text-anchor="middle" stroke="#000" stroke-width="0.22" transform="translate(283.3,682.3) rotate(-90)">Cancer cells</text>
<rect x="298.6" y="470.2" width="207.59999999999997" height="9.400000000000034" fill="url(#memg)"/>
<path d="M402.6,460.6C408.3,460.6 409.0,461.8 409.0,465.76C409.0,469.11400000000003 407.5,470.726 407.5,472.726C407.5,474.726 409.0,476.08 409.0,480.724C409.0,485.79999999999995 406.3,486.4 402.6,486.4C398.90000000000003,486.4 396.20000000000005,485.79999999999995 396.20000000000005,480.724C396.20000000000005,476.08 397.70000000000005,474.726 397.70000000000005,472.726C397.70000000000005,470.726 396.20000000000005,469.11400000000003 396.20000000000005,465.76C396.20000000000005,461.8 396.90000000000003,460.6 402.6,460.6Z" fill="url(#salmg)"/><circle cx="402.6" cy="459.6" r="2.0" fill="#fff" stroke="#e8612c" stroke-width="1.1"/>
<text x="393.5" y="457.2" font-size="9.4" text-anchor="middle" fill="#ec6418" stroke="#ec6418" stroke-width="0.22">NE</text>
<text x="410.0" y="468.2" font-size="9.2" fill="#f27b7b" stroke="#f27b7b" stroke-width="0.22">ADRB2</text>
<path d="M398.2,488.2L383.08,502.82" stroke="#262626" stroke-width="1.05"/><path d="M380.20,505.60L382.27,500.54L383.00,502.89L385.32,503.71Z" fill="#262626"/>
<path d="M406.6,488.2L422.09,502.85" stroke="#262626" stroke-width="1.05"/><path d="M425.00,505.60L419.86,503.76L422.17,502.92L422.88,500.57Z" fill="#262626"/>
<ellipse cx="367.9" cy="515.0" rx="13.6" ry="7.3" fill="url(#yg)"/><text x="367.9" y="518.3" font-size="9.5" text-anchor="middle" stroke="#000" stroke-width="0.18">ERK</text>
<ellipse cx="436.1" cy="515.0" rx="14.2" ry="7.3" fill="url(#og)"/><text x="436.1" y="518.3" font-size="9.5" text-anchor="middle" stroke="#000" stroke-width="0.18">CREB</text>
<circle cx="354.3" cy="506.1" r="5.2" fill="url(#pg)" stroke="#a066bc" stroke-width="1.1"/><text x="354.3" y="509.3" font-size="9" text-anchor="middle">P</text>
<circle cx="452.0" cy="506.1" r="5.2" fill="url(#pg)" stroke="#a066bc" stroke-width="1.1"/><text x="452.0" y="509.3" font-size="9" text-anchor="middle">P</text>
<path d="M342.5,553.3C350,538 380,534.4 406,534.4C432,534.4 462,538 468.8,553.3" fill="none" stroke="#969696" stroke-width="1.5" stroke-dasharray="14.5 4.2" stroke-dashoffset="1"/>
<path d="M379.4,525.6L395.93,541.62" stroke="#262626" stroke-width="1.05"/><path d="M398.80,544.40L393.68,542.50L396.00,541.69L396.74,539.34Z" fill="#262626"/>
<path d="M425.2,525.6L409.23,541.57" stroke="#262626" stroke-width="1.05"/><path d="M406.40,544.40L408.38,539.31L409.16,541.64L411.49,542.42Z" fill="#262626"/>
<text x="402.3" y="554.9" font-size="9.5" text-anchor="middle" fill="#1f9a45" stroke="#1f9a45" stroke-width="0.22">NGF</text>
<path d="M401.8,564.8V557.7H415.5" fill="none" stroke="#1f9a45" stroke-width="1.1"/>
<path d="M419.40,557.70L414.20,559.90L415.34,557.70L414.20,555.50Z" fill="#1f9a45"/>
<path d="M369.30,565.47V572.93M370.85,565.94V572.46M372.40,566.68V571.72M373.95,567.62V570.78M377.05,569.81V568.59M378.60,570.87V567.53M380.15,571.80V566.60M381.70,572.52V565.88M383.25,572.96V565.44M384.80,573.10V565.30M386.35,572.92V565.48M387.90,572.44V565.96M389.45,571.69V566.71M391.00,570.74V567.66M394.10,568.55V569.85M395.65,567.49V570.91M397.20,566.57V571.83M398.75,565.87V572.53M400.30,565.43V572.97M401.85,565.30V573.10M403.40,565.49V572.91M404.95,565.98V572.42M406.50,566.74V571.66M408.05,567.69V570.71M411.15,569.88V568.52M412.70,570.94V567.46M414.25,571.85V566.55M415.80,572.55V565.85M417.35,572.98V565.42M418.90,573.10V565.30M420.45,572.90V565.50M422.00,572.40V566.00M423.55,571.64V566.76M425.10,570.68V567.72M428.20,568.48V569.92M429.75,567.43V570.97M431.30,566.52V571.88M432.85,565.83V572.57M434.40,565.41V572.99" stroke="#f6cf86" stroke-width="0.8"/>
<polyline points="368.5,573.1 368.9,573.0 369.3,572.9 369.8,572.8 370.2,572.7 370.6,572.6 371.0,572.4 371.4,572.2 371.8,572.0 372.3,571.8 372.7,571.6 373.1,571.3 373.5,571.1 373.9,570.8 374.4,570.5 374.8,570.2 375.2,569.9 375.6,569.6 376.0,569.3 376.4,569.0 376.9,568.7 377.3,568.4 377.7,568.1 378.1,567.8 378.5,567.6 379.0,567.3 379.4,567.0 379.8,566.8 380.2,566.6 380.6,566.4 381.0,566.2 381.5,566.0 381.9,565.8 382.3,565.7 382.7,565.6 383.1,565.5 383.6,565.4 384.0,565.3 384.4,565.3 384.8,565.3 385.2,565.3 385.6,565.4 386.1,565.4 386.5,565.5 386.9,565.6 387.3,565.7 387.7,565.9 388.2,566.1 388.6,566.3 389.0,566.5 389.4,566.7 389.8,566.9 390.2,567.2 390.7,567.4 391.1,567.7 391.5,568.0 391.9,568.3 392.3,568.6 392.8,568.9 393.2,569.2 393.6,569.5 394.0,569.8 394.4,570.1 394.8,570.4 395.3,570.6 395.7,570.9 396.1,571.2 396.5,571.4 396.9,571.7 397.4,571.9 397.8,572.1 398.2,572.3 398.6,572.5 399.0,572.6 399.4,572.8 399.9,572.9 400.3,573.0 400.7,573.0 401.1,573.1 401.5,573.1 401.9,573.1 402.4,573.1 402.8,573.0 403.2,573.0 403.6,572.9 404.0,572.7 404.5,572.6 404.9,572.4 405.3,572.3 405.7,572.1 406.1,571.9 406.5,571.6 407.0,571.4 407.4,571.1 407.8,570.9 408.2,570.6 408.6,570.3 409.1,570.0 409.5,569.7 409.9,569.4 410.3,569.1 410.7,568.8 411.1,568.5 411.6,568.2 412.0,567.9 412.4,567.7 412.8,567.4 413.2,567.1 413.7,566.9 414.1,566.6 414.5,566.4 414.9,566.2 415.3,566.0 415.7,565.9 416.2,565.7 416.6,565.6 417.0,565.5 417.4,565.4 417.8,565.3 418.3,565.3 418.7,565.3 419.1,565.3 419.5,565.3 419.9,565.4 420.3,565.5 420.8,565.6 421.2,565.7 421.6,565.8 422.0,566.0 422.4,566.2 422.9,566.4 423.3,566.6 423.7,566.8 424.1,567.1 424.5,567.4 424.9,567.6 425.4,567.9 425.8,568.2 426.2,568.5 426.6,568.8 427.0,569.1 427.5,569.4 427.9,569.7 428.3,570.0 428.7,570.3 429.1,570.6 429.5,570.8 430.0,571.1 430.4,571.4 430.8,571.6 431.2,571.8 431.6,572.1 432.1,572.2 432.5,572.4 432.9,572.6 433.3,572.7 433.7,572.8 434.1,572.9 434.6,573.0 435.0,573.1 435.4,573.1" fill="none" stroke="#c0a4f0" stroke-width="1.4"/>
<polyline points="368.5,565.3 368.9,565.4 369.3,565.5 369.8,565.6 370.2,565.7 370.6,565.8 371.0,566.0 371.4,566.2 371.8,566.4 372.3,566.6 372.7,566.8 373.1,567.1 373.5,567.3 373.9,567.6 374.4,567.9 374.8,568.2 375.2,568.5 375.6,568.8 376.0,569.1 376.4,569.4 376.9,569.7 377.3,570.0 377.7,570.3 378.1,570.6 378.5,570.8 379.0,571.1 379.4,571.4 379.8,571.6 380.2,571.8 380.6,572.0 381.0,572.2 381.5,572.4 381.9,572.6 382.3,572.7 382.7,572.8 383.1,572.9 383.6,573.0 384.0,573.1 384.4,573.1 384.8,573.1 385.2,573.1 385.6,573.0 386.1,573.0 386.5,572.9 386.9,572.8 387.3,572.7 387.7,572.5 388.2,572.3 388.6,572.1 389.0,571.9 389.4,571.7 389.8,571.5 390.2,571.2 390.7,571.0 391.1,570.7 391.5,570.4 391.9,570.1 392.3,569.8 392.8,569.5 393.2,569.2 393.6,568.9 394.0,568.6 394.4,568.3 394.8,568.0 395.3,567.8 395.7,567.5 396.1,567.2 396.5,567.0 396.9,566.7 397.4,566.5 397.8,566.3 398.2,566.1 398.6,565.9 399.0,565.8 399.4,565.6 399.9,565.5 400.3,565.4 400.7,565.4 401.1,565.3 401.5,565.3 401.9,565.3 402.4,565.3 402.8,565.4 403.2,565.4 403.6,565.5 404.0,565.7 404.5,565.8 404.9,566.0 405.3,566.1 405.7,566.3 406.1,566.5 406.5,566.8 407.0,567.0 407.4,567.3 407.8,567.5 408.2,567.8 408.6,568.1 409.1,568.4 409.5,568.7 409.9,569.0 410.3,569.3 410.7,569.6 411.1,569.9 411.6,570.2 412.0,570.5 412.4,570.7 412.8,571.0 413.2,571.3 413.7,571.5 414.1,571.8 414.5,572.0 414.9,572.2 415.3,572.4 415.7,572.5 416.2,572.7 416.6,572.8 417.0,572.9 417.4,573.0 417.8,573.1 418.3,573.1 418.7,573.1 419.1,573.1 419.5,573.1 419.9,573.0 420.3,572.9 420.8,572.8 421.2,572.7 421.6,572.6 422.0,572.4 422.4,572.2 422.9,572.0 423.3,571.8 423.7,571.6 424.1,571.3 424.5,571.0 424.9,570.8 425.4,570.5 425.8,570.2 426.2,569.9 426.6,569.6 427.0,569.3 427.5,569.0 427.9,568.7 428.3,568.4 428.7,568.1 429.1,567.8 429.5,567.6 430.0,567.3 430.4,567.0 430.8,566.8 431.2,566.6 431.6,566.3 432.1,566.2 432.5,566.0 432.9,565.8 433.3,565.7 433.7,565.6 434.1,565.5 434.6,565.4 435.0,565.3 435.4,565.3" fill="none" stroke="#8a5ad0" stroke-width="1.4"/>
<rect x="296.9" y="613.4" width="206.90000000000003" height="9.399999999999977" fill="url(#memb)"/>
<path d="M360.6,604.6C365.8,604.6 366.5,605.8000000000001 366.5,609.4200000000001C366.5,612.553 365.0,613.927 365.0,615.927C365.0,617.927 366.5,619.0600000000001 366.5,623.398C366.5,628.1 363.8,628.7 360.6,628.7C357.40000000000003,628.7 354.70000000000005,628.1 354.70000000000005,623.398C354.70000000000005,619.0600000000001 356.20000000000005,617.927 356.20000000000005,615.927C356.20000000000005,613.927 354.70000000000005,612.553 354.70000000000005,609.4200000000001C354.70000000000005,605.8000000000001 355.40000000000003,604.6 360.6,604.6Z" fill="url(#salmg)"/><circle cx="360.6" cy="603.6" r="2.0" fill="#fff" stroke="#e8612c" stroke-width="1.1"/>
<text x="351.3" y="600.3" font-size="9.4" text-anchor="middle" fill="#ec6418" stroke="#ec6418" stroke-width="0.22">NE</text>
<text x="368.8" y="612.0" font-size="9.2" fill="#f27b7b" stroke="#f27b7b" stroke-width="0.22">ADRA2A</text>
<path d="M463.0,604.3C468.2,604.3 468.9,605.5 468.9,609.4399999999999C468.9,612.781 467.4,614.379 467.4,616.379C467.4,618.379 468.9,619.72 468.9,624.346C468.9,629.4 466.2,630.0 463.0,630.0C459.8,630.0 457.1,629.4 457.1,624.346C457.1,619.72 458.6,618.379 458.6,616.379C458.6,614.379 457.1,612.781 457.1,609.4399999999999C457.1,605.5 457.8,604.3 463.0,604.3Z" fill="url(#oliveg)"/><circle cx="463.0" cy="603.3" r="2.0" fill="#fff" stroke="#1f9a45" stroke-width="1.1"/>
<text x="453.1" y="600.4" font-size="9.4" text-anchor="middle" fill="#1f9a45" stroke="#1f9a45" stroke-width="0.22">NGF</text>
<text x="471.6" y="611.2" font-size="9.2" fill="#9a9a1e" stroke="#9a9a1e" stroke-width="0.22">TRKA</text>
<ellipse cx="360.7" cy="636.2" rx="8.6" ry="8.6" fill="url(#tang)"/><text x="360.5" y="639.1" font-size="8.4" text-anchor="middle" stroke="#000" stroke-width="0.15">G<tspan font-size="6.6" fill="#333" stroke-width="0.05">i/o</tspan></text>
<path d="M360.7,645V649.6M356.6,649.6H364.8" stroke="#2a2a2a" stroke-width="1.1" fill="none"/>
<ellipse cx="360.6" cy="659.4" rx="13.7" ry="7.4" fill="url(#yg)"/><text x="360.6" y="662.7" font-size="9.5" text-anchor="middle" stroke="#000" stroke-width="0.18">LATS</text>
<path d="M360.7,667.5L360.70,673.60" stroke="#262626" stroke-width="1.05"/><path d="M360.70,677.60L358.50,672.60L360.70,673.70L362.90,672.60Z" fill="#262626"/>
<ellipse cx="360.4" cy="686.4" rx="13.5" ry="7.5" fill="url(#gg)"/><text x="360.4" y="689.7" font-size="9.5" text-anchor="middle" stroke="#000" stroke-width="0.18">YAP</text>
<circle cx="345.8" cy="678.1" r="5.2" fill="url(#pg)" stroke="#a066bc" stroke-width="1.1"/><text x="345.8" y="681.3" font-size="9" text-anchor="middle">P</text>
<path d="M360.6,694.5L360.60,703.60" stroke="#262626" stroke-width="1.05"/><path d="M360.60,707.60L358.40,702.60L360.60,703.70L362.80,702.60Z" fill="#262626"/>
<path d="M298,713C318,702 340,698.6 360,698.6C385,698.6 410,705 421.3,719.5" fill="none" stroke="#12308a" stroke-width="1.9" stroke-dasharray="14 5.5" stroke-dashoffset="4"/>
<ellipse cx="360.5" cy="716.3" rx="13.5" ry="7.2" fill="url(#gg)"/><text x="360.5" y="719.6" font-size="9.5" text-anchor="middle" stroke="#000" stroke-width="0.18">YAP</text>
<path d="M327.70,737.97V745.23M329.25,738.56V744.64M330.80,739.43V743.77M332.35,740.50V742.70M335.45,742.84V740.36M337.00,743.89V739.31M338.55,744.73V738.47M340.10,745.28V737.92M341.65,745.50V737.70M343.20,745.35V737.85M344.75,744.86V738.34M346.30,744.07V739.13M347.85,743.06V740.14M350.95,740.73V742.47M352.50,739.63V743.57M354.05,738.71V744.49M355.60,738.06V745.14M357.15,737.73V745.47M358.70,737.76V745.44M360.25,738.14V745.06M361.80,738.84V744.36M363.35,739.80V743.40M364.90,740.91V742.29M368.00,743.23V739.97M369.55,744.22V738.98M371.10,744.96V738.24M372.65,745.40V737.80M374.20,745.49V737.71M375.75,745.22V737.98M377.30,744.61V738.59M378.85,743.73V739.47M380.40,742.66V740.54M383.50,740.32V742.88M385.05,739.28V743.92M386.60,738.44V744.76M388.15,737.90V745.30M389.70,737.70V745.50M391.25,737.86V745.34M392.80,738.36V744.84" stroke="#f6cf86" stroke-width="0.8"/>
<polyline points="326.9,745.4 327.3,745.3 327.7,745.2 328.2,745.1 328.6,744.9 329.0,744.8 329.4,744.6 329.8,744.3 330.2,744.1 330.7,743.9 331.1,743.6 331.5,743.3 331.9,743.0 332.3,742.7 332.8,742.4 333.2,742.1 333.6,741.8 334.0,741.4 334.4,741.1 334.8,740.8 335.3,740.5 335.7,740.2 336.1,739.9 336.5,739.6 336.9,739.3 337.4,739.1 337.8,738.9 338.2,738.6 338.6,738.4 339.0,738.3 339.4,738.1 339.9,738.0 340.3,737.9 340.7,737.8 341.1,737.7 341.5,737.7 342.0,737.7 342.4,737.7 342.8,737.8 343.2,737.8 343.6,737.9 344.0,738.1 344.5,738.2 344.9,738.4 345.3,738.6 345.7,738.8 346.1,739.0 346.6,739.3 347.0,739.5 347.4,739.8 347.8,740.1 348.2,740.4 348.6,740.7 349.1,741.0 349.5,741.4 349.9,741.7 350.3,742.0 350.7,742.3 351.2,742.6 351.6,742.9 352.0,743.2 352.4,743.5 352.8,743.8 353.2,744.0 353.7,744.3 354.1,744.5 354.5,744.7 354.9,744.9 355.3,745.1 355.8,745.2 356.2,745.3 356.6,745.4 357.0,745.5 357.4,745.5 357.8,745.5 358.3,745.5 358.7,745.4 359.1,745.4 359.5,745.3 359.9,745.2 360.4,745.0 360.8,744.9 361.2,744.7 361.6,744.5 362.0,744.2 362.4,744.0 362.9,743.7 363.3,743.5 363.7,743.2 364.1,742.9 364.5,742.6 364.9,742.2 365.4,741.9 365.8,741.6 366.2,741.3 366.6,741.0 367.0,740.7 367.5,740.4 367.9,740.1 368.3,739.8 368.7,739.5 369.1,739.2 369.5,739.0 370.0,738.8 370.4,738.5 370.8,738.4 371.2,738.2 371.6,738.0 372.1,737.9 372.5,737.8 372.9,737.8 373.3,737.7 373.7,737.7 374.1,737.7 374.6,737.7 375.0,737.8 375.4,737.9 375.8,738.0 376.2,738.1 376.7,738.3 377.1,738.5 377.5,738.7 377.9,738.9 378.3,739.1 378.7,739.4 379.2,739.7 379.6,740.0 380.0,740.3 380.4,740.6 380.8,740.9 381.3,741.2 381.7,741.5 382.1,741.8 382.5,742.1 382.9,742.5 383.3,742.8 383.8,743.1 384.2,743.4 384.6,743.6 385.0,743.9 385.4,744.2 385.9,744.4 386.3,744.6 386.7,744.8 387.1,745.0 387.5,745.1 387.9,745.2 388.4,745.3 388.8,745.4 389.2,745.5 389.6,745.5 390.0,745.5 390.5,745.5 390.9,745.4 391.3,745.3 391.7,745.2 392.1,745.1 392.5,744.9 393.0,744.8 393.4,744.6 393.8,744.4" fill="none" stroke="#c0a4f0" stroke-width="1.4"/>
<polyline points="326.9,737.8 327.3,737.9 327.7,738.0 328.2,738.1 328.6,738.3 329.0,738.4 329.4,738.6 329.8,738.9 330.2,739.1 330.7,739.3 331.1,739.6 331.5,739.9 331.9,740.2 332.3,740.5 332.8,740.8 333.2,741.1 333.6,741.4 334.0,741.8 334.4,742.1 334.8,742.4 335.3,742.7 335.7,743.0 336.1,743.3 336.5,743.6 336.9,743.9 337.4,744.1 337.8,744.3 338.2,744.6 338.6,744.8 339.0,744.9 339.4,745.1 339.9,745.2 340.3,745.3 340.7,745.4 341.1,745.5 341.5,745.5 342.0,745.5 342.4,745.5 342.8,745.4 343.2,745.4 343.6,745.3 344.0,745.1 344.5,745.0 344.9,744.8 345.3,744.6 345.7,744.4 346.1,744.2 346.6,743.9 347.0,743.7 347.4,743.4 347.8,743.1 348.2,742.8 348.6,742.5 349.1,742.2 349.5,741.8 349.9,741.5 350.3,741.2 350.7,740.9 351.2,740.6 351.6,740.3 352.0,740.0 352.4,739.7 352.8,739.4 353.2,739.2 353.7,738.9 354.1,738.7 354.5,738.5 354.9,738.3 355.3,738.1 355.8,738.0 356.2,737.9 356.6,737.8 357.0,737.7 357.4,737.7 357.8,737.7 358.3,737.7 358.7,737.8 359.1,737.8 359.5,737.9 359.9,738.0 360.4,738.2 360.8,738.3 361.2,738.5 361.6,738.7 362.0,739.0 362.4,739.2 362.9,739.5 363.3,739.7 363.7,740.0 364.1,740.3 364.5,740.6 364.9,741.0 365.4,741.3 365.8,741.6 366.2,741.9 366.6,742.2 367.0,742.5 367.5,742.8 367.9,743.1 368.3,743.4 368.7,743.7 369.1,744.0 369.5,744.2 370.0,744.4 370.4,744.7 370.8,744.8 371.2,745.0 371.6,745.2 372.1,745.3 372.5,745.4 372.9,745.4 373.3,745.5 373.7,745.5 374.1,745.5 374.6,745.5 375.0,745.4 375.4,745.3 375.8,745.2 376.2,745.1 376.7,744.9 377.1,744.7 377.5,744.5 377.9,744.3 378.3,744.1 378.7,743.8 379.2,743.5 379.6,743.2 380.0,742.9 380.4,742.6 380.8,742.3 381.3,742.0 381.7,741.7 382.1,741.4 382.5,741.1 382.9,740.7 383.3,740.4 383.8,740.1 384.2,739.8 384.6,739.6 385.0,739.3 385.4,739.0 385.9,738.8 386.3,738.6 386.7,738.4 387.1,738.2 387.5,738.1 387.9,738.0 388.4,737.9 388.8,737.8 389.2,737.7 389.6,737.7 390.0,737.7 390.5,737.7 390.9,737.8 391.3,737.9 391.7,738.0 392.1,738.1 392.5,738.3 393.0,738.4 393.4,738.6 393.8,738.8" fill="none" stroke="#8a5ad0" stroke-width="1.4"/>
<ellipse cx="360.4" cy="730.6" rx="14.0" ry="7.6" fill="url(#lg)"/><text x="360.4" y="733.9" font-size="9.2" text-anchor="middle" stroke="#000" stroke-width="0.18">TEAD</text>
<path d="M360.3,747.4L370.41,758.54" stroke="#262626" stroke-width="1.05"/><path d="M373.10,761.50L368.11,759.28L370.48,758.61L371.37,756.32Z" fill="#262626"/>
<ellipse cx="463.0" cy="660.4" rx="13.6" ry="6.8" fill="url(#og)"/><text x="463.0" y="663.7" font-size="9.5" text-anchor="middle" stroke="#000" stroke-width="0.18">PI3K</text>
<ellipse cx="463.0" cy="703.9" rx="13.6" ry="7.5" fill="url(#yg)"/><text x="463.0" y="707.2" font-size="9.5" text-anchor="middle" stroke="#000" stroke-width="0.18">AKT</text>
<circle cx="477.8" cy="694.9" r="5.2" fill="url(#pg)" stroke="#a066bc" stroke-width="1.1"/><text x="477.8" y="698.1" font-size="9" text-anchor="middle">P</text>
<path d="M463.0,632.6L463.00,645.40" stroke="#262626" stroke-width="1.05"/><path d="M463.00,649.40L460.80,644.40L463.00,645.50L465.20,644.40Z" fill="#262626"/>
<path d="M463.0,672.8L463.00,686.80" stroke="#262626" stroke-width="1.05"/><path d="M463.00,690.80L460.80,685.80L463.00,686.90L465.20,685.80Z" fill="#262626"/>
<path d="M463.0,717.2L436.78,757.45" stroke="#262626" stroke-width="1.05"/><path d="M434.60,760.80L435.49,755.41L436.73,757.53L439.17,757.81Z" fill="#262626"/>
<text x="408.4" y="772.4" font-size="9.75" text-anchor="middle" stroke="#000" stroke-width="0.22">Increased cancer cell growth</text>
</svg>
</body></html>
